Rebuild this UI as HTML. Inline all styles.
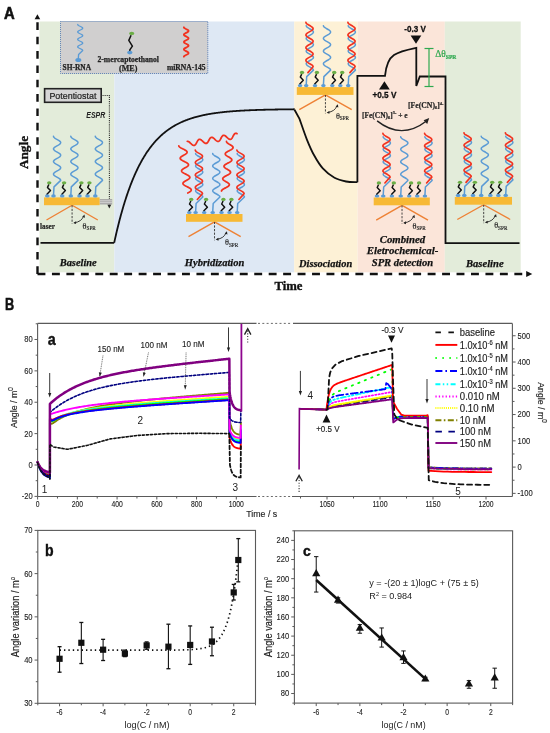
<!DOCTYPE html>
<html><head><meta charset="utf-8"><title>Figure</title>
<style>html,body{margin:0;padding:0;background:#fff;width:550px;height:733px;overflow:hidden}svg{display:block}</style>
</head><body>
<svg width="550" height="733" viewBox="0 0 550 733">
<rect width="550" height="733" fill="#fff"/>
<rect x="39.5" y="21.5" width="74.8" height="250.8" fill="#e3ecda"/>
<rect x="114.3" y="21.5" width="179.9" height="250.8" fill="#dee8f4"/>
<rect x="294.2" y="21.5" width="63.5" height="250.8" fill="#fdf1d6"/>
<rect x="357.7" y="21.5" width="87.1" height="250.8" fill="#fbe5d9"/>
<rect x="444.8" y="21.5" width="75.9" height="250.8" fill="#e3ecda"/>
<rect x="60.5" y="21.5" width="147.3" height="52" fill="#d0cfcf" stroke="#5b7db3" stroke-width="1" stroke-dasharray="1,1"/>
<polyline points="77.7,24.5 77.92,25 78.54,25.5 79.46,26 80.5,26.5 81.49,27 82.26,27.5 82.66,28 82.63,28.5 82.17,29 81.36,29.5 80.35,30 79.31,30.5 78.43,31 77.86,31.5 77.7,32 77.99,32.5 78.66,33 79.6,33.5 80.65,34 81.62,34.5 82.34,35 82.68,35.5 82.59,36 82.07,36.5 81.23,37 80.2,37.5 79.17,38 78.33,38.5 77.81,39 77.72,39.5 78.06,40 78.78,40.5 79.75,41 80.8,41.5 81.74,42 82.41,42.5 82.7,43 82.54,43.5 81.97,44 81.09,44.5 80.05,45 79.04,45.5 78.23,46 77.77,46.5 77.74,47 78.14,47.5 78.91,48 79.9,48.5 80.94,49 81.86,49.5 82.48,50 82.7,50.5 78.6,54.4 78.3,58.5" fill="none" stroke="#5b9bd5" stroke-width="1.35" stroke-linejoin="round" stroke-linecap="round" />
<ellipse cx="78.3" cy="59.9" rx="3" ry="2" fill="#5b9bd5"/>
<polyline points="129.8,51.8 129.8,49.9 132.4,46.1 128.8,40.4 131.1,35.3" fill="none" stroke="#111" stroke-width="1.5" stroke-linejoin="round"/>
<ellipse cx="131.7" cy="33.4" rx="2.6" ry="1.7" fill="#6aae45"/>
<ellipse cx="129.8" cy="52.6" rx="2.7" ry="1.8" fill="#5b9bd5"/>
<polyline points="183.85,27.3 184.07,27.81 184.68,28.31 185.57,28.82 186.58,29.33 187.52,29.83 188.21,30.34 188.54,30.85 188.43,31.36 187.91,31.86 187.07,32.37 186.07,32.88 185.1,33.38 184.33,33.89 183.9,34.4 183.9,34.9 184.33,35.41 185.1,35.92 186.07,36.42 187.07,36.93 187.91,37.44 188.43,37.94 188.54,38.45 188.21,38.96 187.52,39.47 186.58,39.97 185.57,40.48 184.68,40.99 184.07,41.49 183.85,42 184.07,42.51 184.68,43.01 185.57,43.52 186.58,44.03 187.52,44.53 188.21,45.04 188.54,45.55 188.43,46.06 187.91,46.56 187.07,47.07 186.07,47.58 185.1,48.08 184.33,48.59 183.9,49.1 183.9,49.6 184.33,50.11 185.1,50.62 186.07,51.12 187.07,51.63 187.91,52.14 188.43,52.64 188.54,53.15 188.21,53.66 187.52,54.17 186.58,54.67 185.57,55.18 184.68,55.69 184.07,56.19 183.85,56.7" fill="none" stroke="#f2321f" stroke-width="1.8" stroke-linejoin="round" stroke-linecap="round" />
<g font-family="'Liberation Serif', 'Times New Roman', serif" font-weight="bold" font-size="8" fill="#222" stroke="#222" stroke-width="0.25">
<text x="62.6" y="69.5" textLength="28.4" lengthAdjust="spacingAndGlyphs">SH-RNA</text>
<text x="97.5" y="61.5" textLength="61.5" lengthAdjust="spacingAndGlyphs">2-mercaptoethanol</text>
<text x="128.2" y="71.4" text-anchor="middle">(ME)</text>
<text x="167" y="69.5" textLength="38.5" lengthAdjust="spacingAndGlyphs">miRNA-145</text>
</g>
<rect x="44.6" y="88.7" width="56.6" height="13.6" fill="#d6d6d6" stroke="#222" stroke-width="1.6"/>
<text x="49.4" y="98.5" font-family="'Liberation Sans', Arial, sans-serif" font-size="9.6" fill="#222" stroke="#222" stroke-width="0.2" textLength="47" lengthAdjust="spacingAndGlyphs">Potentiostat</text>
<polyline points="101.5,95.5 109.4,95.5 109.4,205" fill="none" stroke="#333" stroke-width="1.1" stroke-dasharray="1,0.9"/>
<polygon points="107.3,204.5 111.3,204.5 109.3,208.5" fill="#222"/>
<text x="86.3" y="117.8" font-family="'Liberation Sans', Arial, sans-serif" font-size="8.2" font-weight="bold" font-style="italic" fill="#222" textLength="19" lengthAdjust="spacingAndGlyphs">ESPR</text>
<rect x="99.6" y="199" width="12.6" height="5.5" fill="#a9a9a9"/>
<line x1="99.6" y1="200.8" x2="112.2" y2="200.8" stroke="#e8e8e8" stroke-width="0.6"/>
<line x1="99.6" y1="202.6" x2="112.2" y2="202.6" stroke="#e8e8e8" stroke-width="0.6"/>
<path d="M40.5,242.9 L114.2,242.9" stroke="#111" stroke-width="1.8" fill="none"/>
<polyline points="114.2,242.7 114.7,240.41 115.2,238.17 115.7,235.96 116.2,233.79 116.7,231.66 117.2,229.56 117.7,227.5 118.2,225.47 118.7,223.48 119.2,221.53 119.7,219.6 120.2,217.71 120.7,215.85 121.2,214.03 121.7,212.23 122.2,210.47 122.7,208.73 123.2,207.03 123.7,205.35 124.2,203.71 124.7,202.09 125.2,200.5 125.7,198.93 126.2,197.39 126.7,195.88 127.2,194.4 127.7,192.94 128.2,191.5 128.7,190.09 129.2,188.71 129.7,187.34 130.2,186.01 130.7,184.69 131.2,183.4 131.7,182.12 132.2,180.87 132.7,179.65 133.2,178.44 133.7,177.25 134.2,176.08 134.7,174.94 135.2,173.81 135.7,172.7 136.2,171.61 136.7,170.54 137.2,169.49 137.7,168.46 138.2,167.44 138.7,166.44 139.2,165.46 139.7,164.49 140.2,163.55 140.7,162.61 141.2,161.7 141.7,160.8 142.2,159.91 142.7,159.04 143.2,158.19 143.7,157.34 144.2,156.52 144.7,155.71 145.2,154.91 145.7,154.12 146.2,153.35 146.7,152.59 147.2,151.85 147.7,151.12 148.2,150.4 148.7,149.69 149.2,148.99 149.7,148.31 150.2,147.64 150.7,146.98 151.2,146.33 151.7,145.69 152.2,145.06 152.7,144.45 153.2,143.84 153.7,143.24 154.2,142.66 154.7,142.08 155.2,141.52 155.7,140.96 156.2,140.42 156.7,139.88 157.2,139.35 157.7,138.83 158.2,138.32 158.7,137.82 159.2,137.33 159.7,136.84 160.2,136.37 160.7,135.9 161.2,135.44 161.7,134.99 162.2,134.54 162.7,134.11 163.2,133.68 163.7,133.26 164.2,132.84 164.7,132.43 165.2,132.03 165.7,131.64 166.2,131.25 166.7,130.87 167.2,130.5 167.7,130.13 168.2,129.77 168.7,129.42 169.2,129.07 169.7,128.72 170.2,128.39 170.7,128.05 171.2,127.73 171.7,127.41 172.2,127.09 172.7,126.79 173.2,126.48 173.7,126.18 174.2,125.89 174.7,125.6 175.2,125.32 175.7,125.04 176.2,124.76 176.7,124.49 177.2,124.23 177.7,123.97 178.2,123.71 178.7,123.46 179.2,123.21 179.7,122.97 180.2,122.73 180.7,122.5 181.2,122.27 181.7,122.04 182.2,121.82 182.7,121.6 183.2,121.38 183.7,121.17 184.2,120.96 184.7,120.76 185.2,120.56 185.7,120.36 186.2,120.17 186.7,119.97 187.2,119.79 187.7,119.6 188.2,119.42 188.7,119.24 189.2,119.07 189.7,118.9 190.2,118.73 190.7,118.56 191.2,118.4 191.7,118.24 192.2,118.08 192.7,117.92 193.2,117.77 193.7,117.62 194.2,117.47 194.7,117.33 195.2,117.19 195.7,117.05 196.2,116.91 196.7,116.77 197.2,116.64 197.7,116.51 198.2,116.38 198.7,116.26 199.2,116.13 199.7,116.01 200.2,115.89 200.7,115.77 201.2,115.66 201.7,115.54 202.2,115.43 202.7,115.32 203.2,115.21 203.7,115.11 204.2,115 204.7,114.9 205.2,114.8 205.7,114.7 206.2,114.6 206.7,114.51 207.2,114.41 207.7,114.32 208.2,114.23 208.7,114.14 209.2,114.05 209.7,113.97 210.2,113.88 210.7,113.8 211.2,113.72 211.7,113.63 212.2,113.56 212.7,113.48 213.2,113.4 213.7,113.33 214.2,113.25 214.7,113.18 215.2,113.11 215.7,113.04 216.2,112.97 216.7,112.9 217.2,112.83 217.7,112.77 218.2,112.7 218.7,112.64 219.2,112.58 219.7,112.52 220.2,112.46 220.7,112.4 221.2,112.34 221.7,112.28 222.2,112.23 222.7,112.17 223.2,112.12 223.7,112.06 224.2,112.01 224.7,111.96 225.2,111.91 225.7,111.86 226.2,111.81 226.7,111.76 227.2,111.72 227.7,111.67 228.2,111.62 228.7,111.58 229.2,111.53 229.7,111.49 230.2,111.45 230.7,111.41 231.2,111.37 231.7,111.33 232.2,111.29 232.7,111.25 233.2,111.21 233.7,111.17 234.2,111.13 234.7,111.1 235.2,111.06 235.7,111.03 236.2,110.99 236.7,110.96 237.2,110.92 237.7,110.89 238.2,110.86 238.7,110.83 239.2,110.8 239.7,110.76 240.2,110.73 240.7,110.7 241.2,110.68 241.7,110.65 242.2,110.62 242.7,110.59 243.2,110.56 243.7,110.54 244.2,110.51 244.7,110.49 245.2,110.46 245.7,110.43 246.2,110.41 246.7,110.39 247.2,110.36 247.7,110.34 248.2,110.32 248.7,110.29 249.2,110.27 249.7,110.25 250.2,110.23 250.7,110.21 251.2,110.19 251.7,110.17 252.2,110.15 252.7,110.13 253.2,110.11 253.7,110.09 254.2,110.07 254.7,110.05 255.2,110.03 255.7,110.02 256.2,110 256.7,109.98 257.2,109.97 257.7,109.95 258.2,109.93 258.7,109.92 259.2,109.9 259.7,109.89 260.2,109.87 260.7,109.86 261.2,109.84 261.7,109.83 262.2,109.81 262.7,109.8 263.2,109.78 263.7,109.77 264.2,109.76 264.7,109.75 265.2,109.73 265.7,109.72 266.2,109.71 266.7,109.7 267.2,109.68 267.7,109.67 268.2,109.66 268.7,109.65 269.2,109.64 269.7,109.63 270.2,109.62 270.7,109.61 271.2,109.6 271.7,109.59 272.2,109.58 272.7,109.57 273.2,109.56 273.7,109.55 274.2,109.54 274.7,109.53 275.2,109.52 275.7,109.51 276.2,109.5 276.7,109.49 277.2,109.48 277.7,109.48 278.2,109.47 278.7,109.46 279.2,109.45 279.7,109.44 280.2,109.44 280.7,109.43 281.2,109.42 281.7,109.41 282.2,109.41 282.7,109.4 283.2,109.39 283.7,109.39 284.2,109.38 284.7,109.37 285.2,109.37 285.7,109.36 286.2,109.36 286.7,109.35 287.2,109.34 287.7,109.34 288.2,109.33 288.7,109.33 289.2,109.32 289.7,109.31 290.2,109.31 290.7,109.3 291.2,109.3 291.7,109.29 292.2,109.29 292.7,109.28 293.2,109.28 293.7,109.27 294.2,109.27 294.7,109.26" stroke="#111" stroke-width="1.8" fill="none"/>
<path d="M294.5,109.7 L299.5,118.9  C300.72,122.3 304.37,133.23 306.8,139.3 C309.23,145.37 311.43,150.45 314.1,155.3 C316.77,160.15 319.4,164.65 322.8,168.4 C326.2,172.15 330.62,175.62 334.5,177.8 C338.38,179.98 342.28,180.77 346.1,181.5 C349.92,182.23 355.52,182.08 357.4,182.2" stroke="#111" stroke-width="1.8" fill="none"/>
<path d="M357.4,182.2 L357.4,75.8 L385,75.8 C386,66 388,59 394,55 C400,51 408,49.5 416.3,47.8 L416.3,86 L419.8,76.5 L445.5,76.5 L445.5,243.2 L519.5,243.2" stroke="#111" stroke-width="1.8" fill="none" stroke-linejoin="miter"/>
<g stroke="#2fa84f" stroke-width="1.2"><line x1="429" y1="48.5" x2="429" y2="86.5"/><line x1="424.5" y1="48.5" x2="433.5" y2="48.5"/><line x1="424.5" y1="86.5" x2="433.5" y2="86.5"/></g>
<text x="435.3" y="57.3" font-family="'Liberation Serif', 'Times New Roman', serif" font-size="9.4" fill="#2fa84f" stroke="#2fa84f" stroke-width="0.2">&#916;&#952;<tspan font-size="5.6" dy="1.6" font-weight="bold">SPR</tspan></text>
<polygon points="384.4,81.3 379,89.6 389.8,89.6" fill="#111"/>
<text x="384.4" y="98" font-family="'Liberation Sans', Arial, sans-serif" font-weight="bold" font-size="9.6" text-anchor="middle" fill="#111" stroke="#111" stroke-width="0.3" textLength="24" lengthAdjust="spacingAndGlyphs">+0.5 V</text>
<polygon points="410.6,35.6 421.3,35.6 416,43.8" fill="#111"/>
<text x="415" y="32" font-family="'Liberation Sans', Arial, sans-serif" font-weight="bold" font-size="9.6" text-anchor="middle" fill="#111" stroke="#111" stroke-width="0.3" textLength="21.6" lengthAdjust="spacingAndGlyphs">-0.3 V</text>
<g font-family="'Liberation Serif', 'Times New Roman', serif" font-weight="bold" font-size="8.6" fill="#222" stroke="#222" stroke-width="0.2">
<text x="361.9" y="117.5" textLength="45.8" lengthAdjust="spacingAndGlyphs">[Fe(CN)<tspan font-size="5" dy="1.5">6</tspan><tspan dy="-1.5">]</tspan><tspan font-size="5" dy="-3.2">3-</tspan><tspan dy="3.2"> + e</tspan></text>
<text x="408" y="107.7" textLength="35.6" lengthAdjust="spacingAndGlyphs">[Fe(CN)<tspan font-size="5" dy="1.5">6</tspan><tspan dy="-1.5">]</tspan><tspan font-size="5" dy="-3.2">4-</tspan></text>
</g>
<path d="M377.1,120.9 Q401.5,140.3 426.5,121" fill="none" stroke="#222" stroke-width="1.4"/>
<polygon points="429.2,118 423.6,120.2 427.2,123.9" fill="#222"/>
<polyline points="46.5,220 72.08,205.2 97.8,220" fill="none" stroke="#ee8236" stroke-width="1.4"/>
<line x1="72.08" y1="205.2" x2="72.08" y2="223.7" stroke="#333" stroke-width="0.9" stroke-dasharray="2.2,1.4"/>
<path d="M74.28,222.8 Q81.58,221.7 83.58,216.2" fill="none" stroke="#222" stroke-width="0.9"/>
<polygon points="84.48,214.6 84.98,217.8 82.28,216.8" fill="#222"/>
<polygon points="73.28,223 76.08,221.2 76.08,224.1" fill="#222"/>
<text x="82.58" y="228.8" font-family="'Liberation Serif', 'Times New Roman', serif" font-size="8.2" fill="#222" stroke="#222" stroke-width="0.15">&#952;<tspan font-size="5.2" dy="1.4">SPR</tspan></text>
<rect x="44" y="197.4" width="55.6" height="7.8" fill="#f7b935"/>
<polyline points="47.3,195.6 47,194.2 50.5,190.6 47.5,187.4 48.9,184.4" fill="none" stroke="#111" stroke-width="1.45" stroke-linejoin="round"/>
<ellipse cx="49.2" cy="182.8" rx="2.2" ry="1.65" fill="#6aae45"/>
<ellipse cx="47.3" cy="195.9" rx="2.3" ry="1.6" fill="#5b9bd5"/>
<polyline points="62.2,195.6 61.9,194.2 65.4,190.6 62.4,187.4 63.8,184.4" fill="none" stroke="#111" stroke-width="1.45" stroke-linejoin="round"/>
<ellipse cx="64.1" cy="182.8" rx="2.2" ry="1.65" fill="#6aae45"/>
<ellipse cx="62.2" cy="195.9" rx="2.3" ry="1.6" fill="#5b9bd5"/>
<polyline points="79.5,195.6 79.2,194.2 82.7,190.6 79.7,187.4 81.1,184.4" fill="none" stroke="#111" stroke-width="1.45" stroke-linejoin="round"/>
<ellipse cx="81.4" cy="182.8" rx="2.2" ry="1.65" fill="#6aae45"/>
<ellipse cx="79.5" cy="195.9" rx="2.3" ry="1.6" fill="#5b9bd5"/>
<polyline points="87.5,195.6 87.2,194.2 90.7,190.6 87.7,187.4 89.1,184.4" fill="none" stroke="#111" stroke-width="1.45" stroke-linejoin="round"/>
<ellipse cx="89.4" cy="182.8" rx="2.2" ry="1.65" fill="#6aae45"/>
<ellipse cx="87.5" cy="195.9" rx="2.3" ry="1.6" fill="#5b9bd5"/>
<polyline points="53.5,136.3 53.61,136.8 53.94,137.3 54.47,137.8 55.15,138.3 55.96,138.81 56.84,139.31 57.74,139.81 58.6,140.31 59.36,140.81 59.98,141.31 60.43,141.81 60.66,142.31 60.68,142.81 60.47,143.32 60.06,143.82 59.46,144.32 58.71,144.82 57.87,145.32 56.97,145.82 56.09,146.32 55.26,146.82 54.55,147.33 54,147.83 53.65,148.33 53.5,148.83 53.58,149.33 53.88,149.83 54.38,150.33 55.05,150.83 55.84,151.33 56.72,151.84 57.61,152.34 58.48,152.84 59.26,153.34 59.9,153.84 60.37,154.34 60.64,154.84 60.69,155.34 60.52,155.84 60.13,156.35 59.55,156.85 58.83,157.35 57.99,157.85 57.1,158.35 56.21,158.85 55.37,159.35 54.65,159.85 54.07,160.35 53.68,160.86 53.51,161.36 53.56,161.86 53.83,162.36 54.3,162.86 54.94,163.36 55.72,163.86 56.59,164.36 57.48,164.86 58.36,165.37 59.15,165.87 59.82,166.37 60.32,166.87 60.62,167.37 60.7,167.87 60.55,168.37 60.2,168.87 59.65,169.38 58.94,169.88 58.11,170.38 57.23,170.88 56.33,171.38 55.49,171.88 54.74,172.38 54.14,172.88 53.73,173.38 53.52,173.89 53.54,174.39 53.77,174.89 54.22,175.39 54.84,175.89 55.6,176.39 56.46,176.89 57.36,177.39 58.24,177.89 59.05,178.4 59.73,178.9 60.26,179.4 60.59,179.9 60.7,180.4 54,186.9 53.5,195.4" fill="none" stroke="#5b9bd5" stroke-width="1.5" stroke-linejoin="round" stroke-linecap="round" />
<ellipse cx="53.5" cy="195.9" rx="2.3" ry="1.6" fill="#5b9bd5"/>
<polyline points="70.8,136.3 70.91,136.8 71.24,137.3 71.77,137.8 72.45,138.3 73.26,138.81 74.14,139.31 75.04,139.81 75.9,140.31 76.66,140.81 77.28,141.31 77.73,141.81 77.96,142.31 77.98,142.81 77.77,143.32 77.36,143.82 76.76,144.32 76.01,144.82 75.17,145.32 74.27,145.82 73.39,146.32 72.56,146.82 71.85,147.33 71.3,147.83 70.95,148.33 70.8,148.83 70.88,149.33 71.18,149.83 71.68,150.33 72.35,150.83 73.14,151.33 74.02,151.84 74.91,152.34 75.78,152.84 76.56,153.34 77.2,153.84 77.67,154.34 77.94,154.84 77.99,155.34 77.82,155.84 77.43,156.35 76.85,156.85 76.13,157.35 75.29,157.85 74.4,158.35 73.51,158.85 72.67,159.35 71.95,159.85 71.37,160.35 70.98,160.86 70.81,161.36 70.86,161.86 71.13,162.36 71.6,162.86 72.24,163.36 73.02,163.86 73.89,164.36 74.78,164.86 75.66,165.37 76.45,165.87 77.12,166.37 77.62,166.87 77.92,167.37 78,167.87 77.85,168.37 77.5,168.87 76.95,169.38 76.24,169.88 75.41,170.38 74.53,170.88 73.63,171.38 72.79,171.88 72.04,172.38 71.44,172.88 71.03,173.38 70.82,173.89 70.84,174.39 71.07,174.89 71.52,175.39 72.14,175.89 72.9,176.39 73.76,176.89 74.66,177.39 75.54,177.89 76.35,178.4 77.03,178.9 77.56,179.4 77.89,179.9 78,180.4 71.3,186.9 70.8,195.4" fill="none" stroke="#5b9bd5" stroke-width="1.5" stroke-linejoin="round" stroke-linecap="round" />
<ellipse cx="70.8" cy="195.9" rx="2.3" ry="1.6" fill="#5b9bd5"/>
<polyline points="95.3,136.3 95.41,136.8 95.74,137.3 96.27,137.8 96.95,138.3 97.76,138.81 98.64,139.31 99.54,139.81 100.4,140.31 101.16,140.81 101.78,141.31 102.23,141.81 102.46,142.31 102.48,142.81 102.27,143.32 101.86,143.82 101.26,144.32 100.51,144.82 99.67,145.32 98.77,145.82 97.89,146.32 97.06,146.82 96.35,147.33 95.8,147.83 95.45,148.33 95.3,148.83 95.38,149.33 95.68,149.83 96.18,150.33 96.85,150.83 97.64,151.33 98.52,151.84 99.41,152.34 100.28,152.84 101.06,153.34 101.7,153.84 102.17,154.34 102.44,154.84 102.49,155.34 102.32,155.84 101.93,156.35 101.35,156.85 100.63,157.35 99.79,157.85 98.9,158.35 98.01,158.85 97.17,159.35 96.45,159.85 95.87,160.35 95.48,160.86 95.31,161.36 95.36,161.86 95.63,162.36 96.1,162.86 96.74,163.36 97.52,163.86 98.39,164.36 99.28,164.86 100.16,165.37 100.95,165.87 101.62,166.37 102.12,166.87 102.42,167.37 102.5,167.87 102.35,168.37 102,168.87 101.45,169.38 100.74,169.88 99.91,170.38 99.03,170.88 98.13,171.38 97.29,171.88 96.54,172.38 95.94,172.88 95.53,173.38 95.32,173.89 95.34,174.39 95.57,174.89 96.02,175.39 96.64,175.89 97.4,176.39 98.26,176.89 99.16,177.39 100.04,177.89 100.85,178.4 101.53,178.9 102.06,179.4 102.39,179.9 102.5,180.4 95.8,186.9 95.3,195.4" fill="none" stroke="#5b9bd5" stroke-width="1.5" stroke-linejoin="round" stroke-linecap="round" />
<ellipse cx="95.3" cy="195.9" rx="2.3" ry="1.6" fill="#5b9bd5"/>
<polyline points="188.5,236.6 214.53,221.8 240.7,236.6" fill="none" stroke="#ee8236" stroke-width="1.4"/>
<line x1="214.53" y1="221.8" x2="214.53" y2="240.3" stroke="#333" stroke-width="0.9" stroke-dasharray="2.2,1.4"/>
<path d="M216.73,239.4 Q224.03,238.3 226.03,232.8" fill="none" stroke="#222" stroke-width="0.9"/>
<polygon points="226.93,231.2 227.43,234.4 224.73,233.4" fill="#222"/>
<polygon points="215.73,239.6 218.53,237.8 218.53,240.7" fill="#222"/>
<text x="225.03" y="245.4" font-family="'Liberation Serif', 'Times New Roman', serif" font-size="8.2" fill="#222" stroke="#222" stroke-width="0.15">&#952;<tspan font-size="5.2" dy="1.4">SPR</tspan></text>
<rect x="186" y="214" width="56.5" height="7.8" fill="#f7b935"/>
<polyline points="189.3,212.2 189,210.8 192.5,207.2 189.5,204 190.9,201" fill="none" stroke="#111" stroke-width="1.45" stroke-linejoin="round"/>
<ellipse cx="191.2" cy="199.4" rx="2.2" ry="1.65" fill="#6aae45"/>
<ellipse cx="189.3" cy="212.5" rx="2.3" ry="1.6" fill="#5b9bd5"/>
<polyline points="204.2,212.2 203.9,210.8 207.4,207.2 204.4,204 205.8,201" fill="none" stroke="#111" stroke-width="1.45" stroke-linejoin="round"/>
<ellipse cx="206.1" cy="199.4" rx="2.2" ry="1.65" fill="#6aae45"/>
<ellipse cx="204.2" cy="212.5" rx="2.3" ry="1.6" fill="#5b9bd5"/>
<polyline points="221.5,212.2 221.2,210.8 224.7,207.2 221.7,204 223.1,201" fill="none" stroke="#111" stroke-width="1.45" stroke-linejoin="round"/>
<ellipse cx="223.4" cy="199.4" rx="2.2" ry="1.65" fill="#6aae45"/>
<ellipse cx="221.5" cy="212.5" rx="2.3" ry="1.6" fill="#5b9bd5"/>
<polyline points="229.5,212.2 229.2,210.8 232.7,207.2 229.7,204 231.1,201" fill="none" stroke="#111" stroke-width="1.45" stroke-linejoin="round"/>
<ellipse cx="231.4" cy="199.4" rx="2.2" ry="1.65" fill="#6aae45"/>
<ellipse cx="229.5" cy="212.5" rx="2.3" ry="1.6" fill="#5b9bd5"/>
<polyline points="195.6,153.5 195.71,154 196.05,154.5 196.59,155 197.29,155.5 198.11,156 199.01,156.5 199.91,157 200.77,157.5 201.53,158 202.14,158.5 202.57,159 202.78,159.5 202.76,160 202.52,160.5 202.07,161 201.43,161.5 200.65,162 199.78,162.5 198.88,163 197.99,163.5 197.18,164 196.5,164.5 195.99,165 195.68,165.5 195.6,166 195.75,166.5 196.12,167 196.68,167.5 197.4,168 198.24,168.5 199.14,169 200.04,169.5 200.89,170 201.63,170.5 202.22,171 202.61,171.5 202.79,172 202.74,172.5 202.47,173 201.99,173.5 201.33,174 200.53,174.5 199.65,175 198.75,175.5 197.87,176 197.07,176.5 196.41,177 195.93,177.5 195.66,178 195.61,178.5 195.79,179 196.18,179.5 196.77,180 197.51,180.5 198.36,181 199.26,181.5 200.16,182 201,182.5 201.72,183 202.28,183.5 202.65,184 202.8,184.5 202.72,185 202.41,185.5 201.9,186 201.22,186.5 200.41,187 199.52,187.5 198.62,188 197.75,188.5 196.97,189 196.33,189.5 195.88,190 195.64,190.5 195.62,191 195.83,191.5 196.26,192 196.87,192.5 197.63,193 198.49,193.5 199.39,194 200.29,194.5 201.11,195 201.81,195.5 202.35,196 202.69,196.5 202.8,197 196.1,203.5 195.6,212" fill="none" stroke="#5b9bd5" stroke-width="1.5" stroke-linejoin="round" stroke-linecap="round" />
<ellipse cx="195.6" cy="212.5" rx="2.3" ry="1.6" fill="#5b9bd5"/>
<polyline points="195.3,150.1 195.41,150.6 195.75,151.1 196.29,151.6 196.99,152.1 197.81,152.6 198.71,153.1 199.61,153.6 200.47,154.1 201.23,154.6 201.84,155.1 202.27,155.6 202.48,156.1 202.46,156.6 202.22,157.1 201.77,157.6 201.13,158.1 200.35,158.6 199.48,159.1 198.58,159.6 197.69,160.1 196.88,160.6 196.2,161.1 195.69,161.6 195.38,162.1 195.3,162.6 195.45,163.1 195.82,163.6 196.38,164.1 197.1,164.6 197.94,165.1 198.84,165.6 199.74,166.1 200.59,166.6 201.33,167.1 201.92,167.6 202.31,168.1 202.49,168.6 202.44,169.1 202.17,169.6 201.69,170.1 201.03,170.6 200.23,171.1 199.35,171.6 198.45,172.1 197.57,172.6 196.77,173.1 196.11,173.6 195.63,174.1 195.36,174.6 195.31,175.1 195.49,175.6 195.88,176.1 196.47,176.6 197.21,177.1 198.06,177.6 198.96,178.1 199.86,178.6 200.7,179.1 201.42,179.6 201.98,180.1 202.35,180.6 202.5,181.1 202.42,181.6 202.11,182.1 201.6,182.6 200.92,183.1 200.11,183.6 199.22,184.1 198.32,184.6 197.45,185.1 196.67,185.6 196.03,186.1 195.58,186.6 195.34,187.1 195.32,187.6 195.53,188.1 195.96,188.6 196.57,189.1 197.33,189.6 198.19,190.1 199.09,190.6 199.99,191.1 200.81,191.6 201.51,192.1 202.05,192.6 202.39,193.1 202.5,193.6 197.3,199.48" fill="none" stroke="#f2321f" stroke-width="1.65" stroke-linejoin="round" stroke-linecap="round" />
<polyline points="212.7,153.5 212.81,154 213.15,154.5 213.69,155 214.39,155.5 215.21,156 216.11,156.5 217.01,157 217.87,157.5 218.63,158 219.24,158.5 219.67,159 219.88,159.5 219.86,160 219.62,160.5 219.17,161 218.53,161.5 217.75,162 216.88,162.5 215.98,163 215.09,163.5 214.28,164 213.6,164.5 213.09,165 212.78,165.5 212.7,166 212.85,166.5 213.22,167 213.78,167.5 214.5,168 215.34,168.5 216.24,169 217.14,169.5 217.99,170 218.73,170.5 219.32,171 219.71,171.5 219.89,172 219.84,172.5 219.57,173 219.09,173.5 218.43,174 217.63,174.5 216.75,175 215.85,175.5 214.97,176 214.17,176.5 213.51,177 213.03,177.5 212.76,178 212.71,178.5 212.89,179 213.28,179.5 213.87,180 214.61,180.5 215.46,181 216.36,181.5 217.26,182 218.1,182.5 218.82,183 219.38,183.5 219.75,184 219.9,184.5 219.82,185 219.51,185.5 219,186 218.32,186.5 217.51,187 216.62,187.5 215.72,188 214.85,188.5 214.07,189 213.43,189.5 212.98,190 212.74,190.5 212.72,191 212.93,191.5 213.36,192 213.97,192.5 214.73,193 215.59,193.5 216.49,194 217.39,194.5 218.21,195 218.91,195.5 219.45,196 219.79,196.5 219.9,197 213.2,203.5 212.7,212" fill="none" stroke="#5b9bd5" stroke-width="1.5" stroke-linejoin="round" stroke-linecap="round" />
<ellipse cx="212.7" cy="212.5" rx="2.3" ry="1.6" fill="#5b9bd5"/>
<polyline points="237.2,153.5 237.31,154 237.65,154.5 238.19,155 238.89,155.5 239.71,156 240.61,156.5 241.51,157 242.37,157.5 243.13,158 243.74,158.5 244.17,159 244.38,159.5 244.36,160 244.12,160.5 243.67,161 243.03,161.5 242.25,162 241.38,162.5 240.48,163 239.59,163.5 238.78,164 238.1,164.5 237.59,165 237.28,165.5 237.2,166 237.35,166.5 237.72,167 238.28,167.5 239,168 239.84,168.5 240.74,169 241.64,169.5 242.49,170 243.23,170.5 243.82,171 244.21,171.5 244.39,172 244.34,172.5 244.07,173 243.59,173.5 242.93,174 242.13,174.5 241.25,175 240.35,175.5 239.47,176 238.67,176.5 238.01,177 237.53,177.5 237.26,178 237.21,178.5 237.39,179 237.78,179.5 238.37,180 239.11,180.5 239.96,181 240.86,181.5 241.76,182 242.6,182.5 243.32,183 243.88,183.5 244.25,184 244.4,184.5 244.32,185 244.01,185.5 243.5,186 242.82,186.5 242.01,187 241.12,187.5 240.22,188 239.35,188.5 238.57,189 237.93,189.5 237.48,190 237.24,190.5 237.22,191 237.43,191.5 237.86,192 238.47,192.5 239.23,193 240.09,193.5 240.99,194 241.89,194.5 242.71,195 243.41,195.5 243.95,196 244.29,196.5 244.4,197 237.7,203.5 237.2,212" fill="none" stroke="#5b9bd5" stroke-width="1.5" stroke-linejoin="round" stroke-linecap="round" />
<ellipse cx="237.2" cy="212.5" rx="2.3" ry="1.6" fill="#5b9bd5"/>
<polyline points="236.9,150.1 237.01,150.6 237.35,151.1 237.89,151.6 238.59,152.1 239.41,152.6 240.31,153.1 241.21,153.6 242.07,154.1 242.83,154.6 243.44,155.1 243.87,155.6 244.08,156.1 244.06,156.6 243.82,157.1 243.37,157.6 242.73,158.1 241.95,158.6 241.08,159.1 240.18,159.6 239.29,160.1 238.48,160.6 237.8,161.1 237.29,161.6 236.98,162.1 236.9,162.6 237.05,163.1 237.42,163.6 237.98,164.1 238.7,164.6 239.54,165.1 240.44,165.6 241.34,166.1 242.19,166.6 242.93,167.1 243.52,167.6 243.91,168.1 244.09,168.6 244.04,169.1 243.77,169.6 243.29,170.1 242.63,170.6 241.83,171.1 240.95,171.6 240.05,172.1 239.17,172.6 238.37,173.1 237.71,173.6 237.23,174.1 236.96,174.6 236.91,175.1 237.09,175.6 237.48,176.1 238.07,176.6 238.81,177.1 239.66,177.6 240.56,178.1 241.46,178.6 242.3,179.1 243.02,179.6 243.58,180.1 243.95,180.6 244.1,181.1 244.02,181.6 243.71,182.1 243.2,182.6 242.52,183.1 241.71,183.6 240.82,184.1 239.92,184.6 239.05,185.1 238.27,185.6 237.63,186.1 237.18,186.6 236.94,187.1 236.92,187.6 237.13,188.1 237.56,188.6 238.17,189.1 238.93,189.6 239.79,190.1 240.69,190.6 241.59,191.1 242.41,191.6 243.11,192.1 243.65,192.6 243.99,193.1 244.1,193.6 238.9,199.48" fill="none" stroke="#f2321f" stroke-width="1.65" stroke-linejoin="round" stroke-linecap="round" />
<polyline points="178.8,145.8 178.92,146.19 179.18,146.59 179.57,146.98 180.09,147.37 180.71,147.77 181.41,148.16 182.16,148.55 182.95,148.95 183.73,149.34 184.49,149.73 185.19,150.13 185.81,150.52 186.32,150.91 186.72,151.31 186.98,151.7 187.09,152.09 187.06,152.49 186.89,152.88 186.58,153.27 186.15,153.67 185.62,154.06 185.01,154.45 184.34,154.85 183.64,155.24 182.94,155.63 182.27,156.03 181.66,156.42 181.13,156.81 180.7,157.21 180.39,157.6 180.22,157.99 180.19,158.39 180.3,158.78 180.56,159.17 180.96,159.57 181.47,159.96 182.09,160.35 182.79,160.75 183.55,161.14 184.33,161.53 185.12,161.93 185.87,162.32 186.57,162.71 187.19,163.11 187.71,163.5 188.1,163.89 188.36,164.29 188.48,164.68 188.45,165.07 188.28,165.47 187.97,165.86 187.54,166.25 187.01,166.65 186.39,167.04 185.72,167.43 185.03,167.83 184.33,168.22 183.66,168.61 183.05,169.01 182.51,169.4 182.08,169.79 181.78,170.19 181.6,170.58 181.57,170.97 181.69,171.37 181.95,171.76 182.34,172.15 182.86,172.55 183.48,172.94 184.18,173.33 184.94,173.73 185.72,174.12 186.5,174.51 187.26,174.91 187.96,175.3 188.58,175.69 189.1,176.09 189.49,176.48 189.75,176.87 189.87,177.27 189.84,177.66 189.66,178.05 189.36,178.45 188.93,178.84 188.39,179.23 187.78,179.63 187.11,180.02 186.41,180.41 185.72,180.81 185.05,181.2 184.43,181.59 183.9,181.99 183.47,182.38 183.16,182.77 182.99,183.17 182.96,183.56 183.08,183.95 183.34,184.35 183.73,184.74 184.25,185.13 184.87,185.53 185.57,185.92 186.32,186.31 187.11,186.71 187.89,187.1 188.65,187.49 189.35,187.89 189.97,188.28 190.48,188.67 190.88,189.07 191.14,189.46 191.25,189.85 191.22,190.25 191.05,190.64 190.74,191.03 190.31,191.43 189.78,191.82 189.17,192.21 188.5,192.61 187.8,193" fill="none" stroke="#f2321f" stroke-width="1.75" stroke-linejoin="round" stroke-linecap="round" />
<polyline points="226.5,141.4 226.54,141.81 226.73,142.23 227.06,142.64 227.52,143.05 228.09,143.47 228.74,143.88 229.43,144.29 230.14,144.71 230.84,145.12 231.48,145.53 232.05,145.95 232.51,146.36 232.85,146.77 233.04,147.19 233.07,147.6 232.95,148.01 232.68,148.43 232.26,148.84 231.72,149.25 231.07,149.67 230.34,150.08 229.56,150.49 228.77,150.91 227.99,151.32 227.26,151.73 226.61,152.15 226.06,152.56 225.64,152.97 225.37,153.39 225.25,153.8 225.29,154.21 225.48,154.63 225.81,155.04 226.27,155.45 226.84,155.87 227.49,156.28 228.18,156.69 228.89,157.11 229.59,157.52 230.23,157.93 230.8,158.35 231.26,158.76 231.6,159.17 231.79,159.59 231.82,160 231.7,160.41 231.43,160.83 231.01,161.24 230.47,161.65 229.82,162.07 229.09,162.48 228.31,162.89 227.52,163.31 226.74,163.72 226.01,164.13 225.36,164.55 224.81,164.96 224.39,165.37 224.12,165.79 224,166.2 224.04,166.61 224.23,167.03 224.56,167.44 225.02,167.85 225.59,168.27 226.24,168.68 226.93,169.09 227.64,169.51 228.34,169.92 228.98,170.33 229.55,170.75 230.01,171.16 230.35,171.57 230.54,171.99 230.57,172.4 230.45,172.81 230.18,173.23 229.76,173.64 229.22,174.05 228.57,174.47 227.84,174.88 227.06,175.29 226.27,175.71 225.49,176.12 224.76,176.53 224.11,176.95 223.56,177.36 223.14,177.77 222.87,178.19 222.75,178.6 222.79,179.01 222.98,179.43 223.31,179.84 223.77,180.25 224.34,180.67 224.99,181.08 225.68,181.49 226.39,181.91 227.09,182.32 227.73,182.73 228.3,183.15 228.76,183.56 229.1,183.97 229.29,184.39 229.32,184.8 229.2,185.21 228.93,185.63 228.51,186.04 227.97,186.45 227.32,186.87 226.59,187.28 225.81,187.69 225.02,188.11 224.24,188.52 223.51,188.93 222.86,189.35 222.31,189.76 221.89,190.17 221.62,190.59 221.5,191" fill="none" stroke="#f2321f" stroke-width="1.75" stroke-linejoin="round" stroke-linecap="round" />
<polyline points="187.27,141.34 187.78,141.34 188.32,141.5 188.89,141.82 189.47,142.26 190.07,142.78 190.67,143.35 191.28,143.92 191.88,144.46 192.47,144.91 193.03,145.25 193.58,145.44 194.09,145.47 194.58,145.32 195.04,145.02 195.47,144.56 195.89,143.97 196.28,143.29 196.67,142.56 197.06,141.82 197.45,141.11 197.86,140.48 198.28,139.95 198.73,139.57 199.2,139.35 199.7,139.3 200.23,139.42 200.79,139.69 201.37,140.09 201.96,140.59 202.57,141.15 203.17,141.73 203.78,142.28 204.37,142.76 204.94,143.14 205.49,143.38 206.02,143.46 206.51,143.37 206.98,143.11 207.42,142.7 207.84,142.15 208.24,141.49 208.63,140.77 209.02,140.03 209.41,139.31 209.81,138.64 210.23,138.08 210.67,137.66 211.13,137.38 211.63,137.28 212.15,137.35 212.7,137.57 213.27,137.94 213.86,138.41 214.46,138.96 215.07,139.53 215.67,140.1 216.27,140.61 216.85,141.02 217.41,141.3 217.94,141.43 218.44,141.4 218.92,141.19 219.37,140.82 219.8,140.31 220.2,139.69 220.6,138.98 220.98,138.24 221.37,137.51 221.77,136.82 222.18,136.23 222.61,135.76 223.07,135.43 223.55,135.28 224.07,135.29 224.61,135.47 225.17,135.79 225.76,136.24 226.36,136.76 226.96,137.34 227.57,137.91 228.17,138.44 228.75,138.88 229.32,139.21 229.86,139.39 230.37,139.41 230.86,139.26 231.32,138.94 231.75,138.47 232.16,137.88 232.56,137.19 232.95,136.46 233.33,135.72 233.73,135.01 234.13,134.38 234.56,133.87 235.01,133.5 235.48,133.29 235.99,133.25 236.52,133.38 237.08,133.66" fill="none" stroke="#f2321f" stroke-width="1.75" stroke-linejoin="round" stroke-linecap="round" />
<polyline points="299.3,109.7 325.43,94.9 351.7,109.7" fill="none" stroke="#ee8236" stroke-width="1.4"/>
<line x1="325.43" y1="94.9" x2="325.43" y2="113.4" stroke="#333" stroke-width="0.9" stroke-dasharray="2.2,1.4"/>
<path d="M327.63,112.5 Q334.93,111.4 336.93,105.9" fill="none" stroke="#222" stroke-width="0.9"/>
<polygon points="337.83,104.3 338.33,107.5 335.63,106.5" fill="#222"/>
<polygon points="326.63,112.7 329.43,110.9 329.43,113.8" fill="#222"/>
<text x="335.93" y="118.5" font-family="'Liberation Serif', 'Times New Roman', serif" font-size="8.2" fill="#222" stroke="#222" stroke-width="0.15">&#952;<tspan font-size="5.2" dy="1.4">SPR</tspan></text>
<rect x="296.8" y="87.1" width="56.7" height="7.8" fill="#f7b935"/>
<polyline points="300.1,85.3 299.8,83.9 303.3,80.3 300.3,77.1 301.7,74.1" fill="none" stroke="#111" stroke-width="1.45" stroke-linejoin="round"/>
<ellipse cx="302" cy="72.5" rx="2.2" ry="1.65" fill="#6aae45"/>
<ellipse cx="300.1" cy="85.6" rx="2.3" ry="1.6" fill="#5b9bd5"/>
<polyline points="315,85.3 314.7,83.9 318.2,80.3 315.2,77.1 316.6,74.1" fill="none" stroke="#111" stroke-width="1.45" stroke-linejoin="round"/>
<ellipse cx="316.9" cy="72.5" rx="2.2" ry="1.65" fill="#6aae45"/>
<ellipse cx="315" cy="85.6" rx="2.3" ry="1.6" fill="#5b9bd5"/>
<polyline points="332.3,85.3 332,83.9 335.5,80.3 332.5,77.1 333.9,74.1" fill="none" stroke="#111" stroke-width="1.45" stroke-linejoin="round"/>
<ellipse cx="334.2" cy="72.5" rx="2.2" ry="1.65" fill="#6aae45"/>
<ellipse cx="332.3" cy="85.6" rx="2.3" ry="1.6" fill="#5b9bd5"/>
<polyline points="340.3,85.3 340,83.9 343.5,80.3 340.5,77.1 341.9,74.1" fill="none" stroke="#111" stroke-width="1.45" stroke-linejoin="round"/>
<ellipse cx="342.2" cy="72.5" rx="2.2" ry="1.65" fill="#6aae45"/>
<ellipse cx="340.3" cy="85.6" rx="2.3" ry="1.6" fill="#5b9bd5"/>
<polyline points="306.2,25.7 306.31,26.2 306.64,26.71 307.17,27.21 307.85,27.72 308.66,28.22 309.54,28.73 310.44,29.23 311.3,29.74 312.06,30.24 312.68,30.75 313.13,31.25 313.36,31.75 313.38,32.26 313.17,32.76 312.76,33.27 312.16,33.77 311.41,34.28 310.57,34.78 309.67,35.29 308.79,35.79 307.96,36.3 307.25,36.8 306.7,37.3 306.35,37.81 306.2,38.31 306.28,38.82 306.58,39.32 307.08,39.83 307.75,40.33 308.54,40.84 309.42,41.34 310.31,41.85 311.18,42.35 311.96,42.85 312.6,43.36 313.07,43.86 313.34,44.37 313.39,44.87 313.22,45.38 312.83,45.88 312.25,46.39 311.53,46.89 310.69,47.4 309.8,47.9 308.91,48.4 308.07,48.91 307.35,49.41 306.77,49.92 306.38,50.42 306.21,50.93 306.26,51.43 306.53,51.94 307,52.44 307.64,52.95 308.42,53.45 309.29,53.95 310.18,54.46 311.06,54.96 311.85,55.47 312.52,55.97 313.02,56.48 313.32,56.98 313.4,57.49 313.25,57.99 312.9,58.5 312.35,59 311.64,59.5 310.81,60.01 309.93,60.51 309.03,61.02 308.19,61.52 307.44,62.03 306.84,62.53 306.43,63.04 306.22,63.54 306.24,64.05 306.47,64.55 306.92,65.05 307.54,65.56 308.3,66.06 309.16,66.57 310.06,67.07 310.94,67.58 311.75,68.08 312.43,68.59 312.96,69.09 313.29,69.6 313.4,70.1 306.7,76.6 306.2,85.1" fill="none" stroke="#5b9bd5" stroke-width="1.5" stroke-linejoin="round" stroke-linecap="round" />
<ellipse cx="306.2" cy="85.6" rx="2.3" ry="1.6" fill="#5b9bd5"/>
<polyline points="305.9,22.3 306.01,22.8 306.34,23.31 306.87,23.81 307.55,24.32 308.36,24.82 309.24,25.33 310.14,25.83 311,26.34 311.76,26.84 312.38,27.35 312.83,27.85 313.06,28.35 313.08,28.86 312.87,29.36 312.46,29.87 311.86,30.37 311.11,30.88 310.27,31.38 309.37,31.89 308.49,32.39 307.66,32.9 306.95,33.4 306.4,33.9 306.05,34.41 305.9,34.91 305.98,35.42 306.28,35.92 306.78,36.43 307.45,36.93 308.24,37.44 309.12,37.94 310.01,38.45 310.88,38.95 311.66,39.45 312.3,39.96 312.77,40.46 313.04,40.97 313.09,41.47 312.92,41.98 312.53,42.48 311.95,42.99 311.23,43.49 310.39,44 309.5,44.5 308.61,45 307.77,45.51 307.05,46.01 306.47,46.52 306.08,47.02 305.91,47.53 305.96,48.03 306.23,48.54 306.7,49.04 307.34,49.55 308.12,50.05 308.99,50.55 309.88,51.06 310.76,51.56 311.55,52.07 312.22,52.57 312.72,53.08 313.02,53.58 313.1,54.09 312.95,54.59 312.6,55.1 312.05,55.6 311.34,56.1 310.51,56.61 309.63,57.11 308.73,57.62 307.89,58.12 307.14,58.63 306.54,59.13 306.13,59.64 305.92,60.14 305.94,60.65 306.17,61.15 306.62,61.65 307.24,62.16 308,62.66 308.86,63.17 309.76,63.67 310.64,64.18 311.45,64.68 312.13,65.19 312.66,65.69 312.99,66.2 313.1,66.7 307.9,72.58" fill="none" stroke="#f2321f" stroke-width="1.65" stroke-linejoin="round" stroke-linecap="round" />
<polyline points="323.4,25.7 323.51,26.2 323.84,26.71 324.37,27.21 325.05,27.72 325.86,28.22 326.74,28.73 327.64,29.23 328.5,29.74 329.26,30.24 329.88,30.75 330.33,31.25 330.56,31.75 330.58,32.26 330.37,32.76 329.96,33.27 329.36,33.77 328.61,34.28 327.77,34.78 326.87,35.29 325.99,35.79 325.16,36.3 324.45,36.8 323.9,37.3 323.55,37.81 323.4,38.31 323.48,38.82 323.78,39.32 324.28,39.83 324.95,40.33 325.74,40.84 326.62,41.34 327.51,41.85 328.38,42.35 329.16,42.85 329.8,43.36 330.27,43.86 330.54,44.37 330.59,44.87 330.42,45.38 330.03,45.88 329.45,46.39 328.73,46.89 327.89,47.4 327,47.9 326.11,48.4 325.27,48.91 324.55,49.41 323.97,49.92 323.58,50.42 323.41,50.93 323.46,51.43 323.73,51.94 324.2,52.44 324.84,52.95 325.62,53.45 326.49,53.95 327.38,54.46 328.26,54.96 329.05,55.47 329.72,55.97 330.22,56.48 330.52,56.98 330.6,57.49 330.45,57.99 330.1,58.5 329.55,59 328.84,59.5 328.01,60.01 327.13,60.51 326.23,61.02 325.39,61.52 324.64,62.03 324.04,62.53 323.63,63.04 323.42,63.54 323.44,64.05 323.67,64.55 324.12,65.05 324.74,65.56 325.5,66.06 326.36,66.57 327.26,67.07 328.14,67.58 328.95,68.08 329.63,68.59 330.16,69.09 330.49,69.6 330.6,70.1 323.9,76.6 323.4,85.1" fill="none" stroke="#5b9bd5" stroke-width="1.5" stroke-linejoin="round" stroke-linecap="round" />
<ellipse cx="323.4" cy="85.6" rx="2.3" ry="1.6" fill="#5b9bd5"/>
<polyline points="348.2,25.7 348.31,26.2 348.64,26.71 349.17,27.21 349.85,27.72 350.66,28.22 351.54,28.73 352.44,29.23 353.3,29.74 354.06,30.24 354.68,30.75 355.13,31.25 355.36,31.75 355.38,32.26 355.17,32.76 354.76,33.27 354.16,33.77 353.41,34.28 352.57,34.78 351.67,35.29 350.79,35.79 349.96,36.3 349.25,36.8 348.7,37.3 348.35,37.81 348.2,38.31 348.28,38.82 348.58,39.32 349.08,39.83 349.75,40.33 350.54,40.84 351.42,41.34 352.31,41.85 353.18,42.35 353.96,42.85 354.6,43.36 355.07,43.86 355.34,44.37 355.39,44.87 355.22,45.38 354.83,45.88 354.25,46.39 353.53,46.89 352.69,47.4 351.8,47.9 350.91,48.4 350.07,48.91 349.35,49.41 348.77,49.92 348.38,50.42 348.21,50.93 348.26,51.43 348.53,51.94 349,52.44 349.64,52.95 350.42,53.45 351.29,53.95 352.18,54.46 353.06,54.96 353.85,55.47 354.52,55.97 355.02,56.48 355.32,56.98 355.4,57.49 355.25,57.99 354.9,58.5 354.35,59 353.64,59.5 352.81,60.01 351.93,60.51 351.03,61.02 350.19,61.52 349.44,62.03 348.84,62.53 348.43,63.04 348.22,63.54 348.24,64.05 348.47,64.55 348.92,65.05 349.54,65.56 350.3,66.06 351.16,66.57 352.06,67.07 352.94,67.58 353.75,68.08 354.43,68.59 354.96,69.09 355.29,69.6 355.4,70.1 348.7,76.6 348.2,85.1" fill="none" stroke="#5b9bd5" stroke-width="1.5" stroke-linejoin="round" stroke-linecap="round" />
<ellipse cx="348.2" cy="85.6" rx="2.3" ry="1.6" fill="#5b9bd5"/>
<polyline points="347.9,22.3 348.01,22.8 348.34,23.31 348.87,23.81 349.55,24.32 350.36,24.82 351.24,25.33 352.14,25.83 353,26.34 353.76,26.84 354.38,27.35 354.83,27.85 355.06,28.35 355.08,28.86 354.87,29.36 354.46,29.87 353.86,30.37 353.11,30.88 352.27,31.38 351.37,31.89 350.49,32.39 349.66,32.9 348.95,33.4 348.4,33.9 348.05,34.41 347.9,34.91 347.98,35.42 348.28,35.92 348.78,36.43 349.45,36.93 350.24,37.44 351.12,37.94 352.01,38.45 352.88,38.95 353.66,39.45 354.3,39.96 354.77,40.46 355.04,40.97 355.09,41.47 354.92,41.98 354.53,42.48 353.95,42.99 353.23,43.49 352.39,44 351.5,44.5 350.61,45 349.77,45.51 349.05,46.01 348.47,46.52 348.08,47.02 347.91,47.53 347.96,48.03 348.23,48.54 348.7,49.04 349.34,49.55 350.12,50.05 350.99,50.55 351.88,51.06 352.76,51.56 353.55,52.07 354.22,52.57 354.72,53.08 355.02,53.58 355.1,54.09 354.95,54.59 354.6,55.1 354.05,55.6 353.34,56.1 352.51,56.61 351.63,57.11 350.73,57.62 349.89,58.12 349.14,58.63 348.54,59.13 348.13,59.64 347.92,60.14 347.94,60.65 348.17,61.15 348.62,61.65 349.24,62.16 350,62.66 350.86,63.17 351.76,63.67 352.64,64.18 353.45,64.68 354.13,65.19 354.66,65.69 354.99,66.2 355.1,66.7 349.9,72.58" fill="none" stroke="#f2321f" stroke-width="1.65" stroke-linejoin="round" stroke-linecap="round" />
<polyline points="376.2,220.1 402.03,205.3 428,220.1" fill="none" stroke="#ee8236" stroke-width="1.4"/>
<line x1="402.03" y1="205.3" x2="402.03" y2="223.8" stroke="#333" stroke-width="0.9" stroke-dasharray="2.2,1.4"/>
<path d="M404.23,222.9 Q411.53,221.8 413.53,216.3" fill="none" stroke="#222" stroke-width="0.9"/>
<polygon points="414.43,214.7 414.93,217.9 412.23,216.9" fill="#222"/>
<polygon points="403.23,223.1 406.03,221.3 406.03,224.2" fill="#222"/>
<text x="412.53" y="228.9" font-family="'Liberation Serif', 'Times New Roman', serif" font-size="8.2" fill="#222" stroke="#222" stroke-width="0.15">&#952;<tspan font-size="5.2" dy="1.4">SPR</tspan></text>
<rect x="373.7" y="197.5" width="56.1" height="7.8" fill="#f7b935"/>
<polyline points="377,195.7 376.7,194.3 380.2,190.7 377.2,187.5 378.6,184.5" fill="none" stroke="#111" stroke-width="1.45" stroke-linejoin="round"/>
<ellipse cx="378.9" cy="182.9" rx="2.2" ry="1.65" fill="#6aae45"/>
<ellipse cx="377" cy="196" rx="2.3" ry="1.6" fill="#5b9bd5"/>
<polyline points="391.9,195.7 391.6,194.3 395.1,190.7 392.1,187.5 393.5,184.5" fill="none" stroke="#111" stroke-width="1.45" stroke-linejoin="round"/>
<ellipse cx="393.8" cy="182.9" rx="2.2" ry="1.65" fill="#6aae45"/>
<ellipse cx="391.9" cy="196" rx="2.3" ry="1.6" fill="#5b9bd5"/>
<polyline points="409.2,195.7 408.9,194.3 412.4,190.7 409.4,187.5 410.8,184.5" fill="none" stroke="#111" stroke-width="1.45" stroke-linejoin="round"/>
<ellipse cx="411.1" cy="182.9" rx="2.2" ry="1.65" fill="#6aae45"/>
<ellipse cx="409.2" cy="196" rx="2.3" ry="1.6" fill="#5b9bd5"/>
<polyline points="417.2,195.7 416.9,194.3 420.4,190.7 417.4,187.5 418.8,184.5" fill="none" stroke="#111" stroke-width="1.45" stroke-linejoin="round"/>
<ellipse cx="419.1" cy="182.9" rx="2.2" ry="1.65" fill="#6aae45"/>
<ellipse cx="417.2" cy="196" rx="2.3" ry="1.6" fill="#5b9bd5"/>
<polyline points="383.2,136.8 383.31,137.3 383.65,137.8 384.19,138.31 384.89,138.81 385.71,139.31 386.61,139.81 387.51,140.32 388.37,140.82 389.13,141.32 389.74,141.82 390.17,142.33 390.38,142.83 390.36,143.33 390.12,143.83 389.67,144.33 389.03,144.84 388.25,145.34 387.38,145.84 386.48,146.34 385.59,146.85 384.78,147.35 384.1,147.85 383.59,148.35 383.28,148.86 383.2,149.36 383.35,149.86 383.72,150.36 384.28,150.86 385,151.37 385.84,151.87 386.74,152.37 387.64,152.87 388.49,153.38 389.23,153.88 389.82,154.38 390.21,154.88 390.39,155.39 390.34,155.89 390.07,156.39 389.59,156.89 388.93,157.39 388.13,157.9 387.25,158.4 386.35,158.9 385.47,159.4 384.67,159.91 384.01,160.41 383.53,160.91 383.26,161.41 383.21,161.91 383.39,162.42 383.78,162.92 384.37,163.42 385.11,163.92 385.96,164.43 386.86,164.93 387.76,165.43 388.6,165.93 389.32,166.44 389.88,166.94 390.25,167.44 390.4,167.94 390.32,168.44 390.01,168.95 389.5,169.45 388.82,169.95 388.01,170.45 387.12,170.96 386.22,171.46 385.35,171.96 384.57,172.46 383.93,172.97 383.48,173.47 383.24,173.97 383.22,174.47 383.43,174.97 383.86,175.48 384.47,175.98 385.23,176.48 386.09,176.98 386.99,177.49 387.89,177.99 388.71,178.49 389.41,178.99 389.95,179.5 390.29,180 390.4,180.5 383.7,187 383.2,195.5" fill="none" stroke="#5b9bd5" stroke-width="1.5" stroke-linejoin="round" stroke-linecap="round" />
<ellipse cx="383.2" cy="196" rx="2.3" ry="1.6" fill="#5b9bd5"/>
<polyline points="382.9,133.4 383.01,133.9 383.35,134.4 383.89,134.91 384.59,135.41 385.41,135.91 386.31,136.41 387.21,136.92 388.07,137.42 388.83,137.92 389.44,138.42 389.87,138.93 390.08,139.43 390.06,139.93 389.82,140.43 389.37,140.93 388.73,141.44 387.95,141.94 387.08,142.44 386.18,142.94 385.29,143.45 384.48,143.95 383.8,144.45 383.29,144.95 382.98,145.46 382.9,145.96 383.05,146.46 383.42,146.96 383.98,147.46 384.7,147.97 385.54,148.47 386.44,148.97 387.34,149.47 388.19,149.98 388.93,150.48 389.52,150.98 389.91,151.48 390.09,151.99 390.04,152.49 389.77,152.99 389.29,153.49 388.63,153.99 387.83,154.5 386.95,155 386.05,155.5 385.17,156 384.37,156.51 383.71,157.01 383.23,157.51 382.96,158.01 382.91,158.51 383.09,159.02 383.48,159.52 384.07,160.02 384.81,160.52 385.66,161.03 386.56,161.53 387.46,162.03 388.3,162.53 389.02,163.04 389.58,163.54 389.95,164.04 390.1,164.54 390.02,165.04 389.71,165.55 389.2,166.05 388.52,166.55 387.71,167.05 386.82,167.56 385.92,168.06 385.05,168.56 384.27,169.06 383.63,169.57 383.18,170.07 382.94,170.57 382.92,171.07 383.13,171.57 383.56,172.08 384.17,172.58 384.93,173.08 385.79,173.58 386.69,174.09 387.59,174.59 388.41,175.09 389.11,175.59 389.65,176.1 389.99,176.6 390.1,177.1 384.9,182.98" fill="none" stroke="#f2321f" stroke-width="1.65" stroke-linejoin="round" stroke-linecap="round" />
<polyline points="400.7,136.8 400.81,137.3 401.15,137.8 401.69,138.31 402.39,138.81 403.21,139.31 404.11,139.81 405.01,140.32 405.87,140.82 406.63,141.32 407.24,141.82 407.67,142.33 407.88,142.83 407.86,143.33 407.62,143.83 407.17,144.33 406.53,144.84 405.75,145.34 404.88,145.84 403.98,146.34 403.09,146.85 402.28,147.35 401.6,147.85 401.09,148.35 400.78,148.86 400.7,149.36 400.85,149.86 401.22,150.36 401.78,150.86 402.5,151.37 403.34,151.87 404.24,152.37 405.14,152.87 405.99,153.38 406.73,153.88 407.32,154.38 407.71,154.88 407.89,155.39 407.84,155.89 407.57,156.39 407.09,156.89 406.43,157.39 405.63,157.9 404.75,158.4 403.85,158.9 402.97,159.4 402.17,159.91 401.51,160.41 401.03,160.91 400.76,161.41 400.71,161.91 400.89,162.42 401.28,162.92 401.87,163.42 402.61,163.92 403.46,164.43 404.36,164.93 405.26,165.43 406.1,165.93 406.82,166.44 407.38,166.94 407.75,167.44 407.9,167.94 407.82,168.44 407.51,168.95 407,169.45 406.32,169.95 405.51,170.45 404.62,170.96 403.72,171.46 402.85,171.96 402.07,172.46 401.43,172.97 400.98,173.47 400.74,173.97 400.72,174.47 400.93,174.97 401.36,175.48 401.97,175.98 402.73,176.48 403.59,176.98 404.49,177.49 405.39,177.99 406.21,178.49 406.91,178.99 407.45,179.5 407.79,180 407.9,180.5 401.2,187 400.7,195.5" fill="none" stroke="#5b9bd5" stroke-width="1.5" stroke-linejoin="round" stroke-linecap="round" />
<ellipse cx="400.7" cy="196" rx="2.3" ry="1.6" fill="#5b9bd5"/>
<polyline points="424.9,136.8 425.01,137.3 425.35,137.8 425.89,138.31 426.59,138.81 427.41,139.31 428.31,139.81 429.21,140.32 430.07,140.82 430.83,141.32 431.44,141.82 431.87,142.33 432.08,142.83 432.06,143.33 431.82,143.83 431.37,144.33 430.73,144.84 429.95,145.34 429.08,145.84 428.18,146.34 427.29,146.85 426.48,147.35 425.8,147.85 425.29,148.35 424.98,148.86 424.9,149.36 425.05,149.86 425.42,150.36 425.98,150.86 426.7,151.37 427.54,151.87 428.44,152.37 429.34,152.87 430.19,153.38 430.93,153.88 431.52,154.38 431.91,154.88 432.09,155.39 432.04,155.89 431.77,156.39 431.29,156.89 430.63,157.39 429.83,157.9 428.95,158.4 428.05,158.9 427.17,159.4 426.37,159.91 425.71,160.41 425.23,160.91 424.96,161.41 424.91,161.91 425.09,162.42 425.48,162.92 426.07,163.42 426.81,163.92 427.66,164.43 428.56,164.93 429.46,165.43 430.3,165.93 431.02,166.44 431.58,166.94 431.95,167.44 432.1,167.94 432.02,168.44 431.71,168.95 431.2,169.45 430.52,169.95 429.71,170.45 428.82,170.96 427.92,171.46 427.05,171.96 426.27,172.46 425.63,172.97 425.18,173.47 424.94,173.97 424.92,174.47 425.13,174.97 425.56,175.48 426.17,175.98 426.93,176.48 427.79,176.98 428.69,177.49 429.59,177.99 430.41,178.49 431.11,178.99 431.65,179.5 431.99,180 432.1,180.5 425.4,187 424.9,195.5" fill="none" stroke="#5b9bd5" stroke-width="1.5" stroke-linejoin="round" stroke-linecap="round" />
<ellipse cx="424.9" cy="196" rx="2.3" ry="1.6" fill="#5b9bd5"/>
<polyline points="424.6,133.4 424.71,133.9 425.05,134.4 425.59,134.91 426.29,135.41 427.11,135.91 428.01,136.41 428.91,136.92 429.77,137.42 430.53,137.92 431.14,138.42 431.57,138.93 431.78,139.43 431.76,139.93 431.52,140.43 431.07,140.93 430.43,141.44 429.65,141.94 428.78,142.44 427.88,142.94 426.99,143.45 426.18,143.95 425.5,144.45 424.99,144.95 424.68,145.46 424.6,145.96 424.75,146.46 425.12,146.96 425.68,147.46 426.4,147.97 427.24,148.47 428.14,148.97 429.04,149.47 429.89,149.98 430.63,150.48 431.22,150.98 431.61,151.48 431.79,151.99 431.74,152.49 431.47,152.99 430.99,153.49 430.33,153.99 429.53,154.5 428.65,155 427.75,155.5 426.87,156 426.07,156.51 425.41,157.01 424.93,157.51 424.66,158.01 424.61,158.51 424.79,159.02 425.18,159.52 425.77,160.02 426.51,160.52 427.36,161.03 428.26,161.53 429.16,162.03 430,162.53 430.72,163.04 431.28,163.54 431.65,164.04 431.8,164.54 431.72,165.04 431.41,165.55 430.9,166.05 430.22,166.55 429.41,167.05 428.52,167.56 427.62,168.06 426.75,168.56 425.97,169.06 425.33,169.57 424.88,170.07 424.64,170.57 424.62,171.07 424.83,171.57 425.26,172.08 425.87,172.58 426.63,173.08 427.49,173.58 428.39,174.09 429.29,174.59 430.11,175.09 430.81,175.59 431.35,176.1 431.69,176.6 431.8,177.1 426.6,182.98" fill="none" stroke="#f2321f" stroke-width="1.65" stroke-linejoin="round" stroke-linecap="round" />
<polyline points="457.3,219.5 483.69,204.7 510.2,219.5" fill="none" stroke="#ee8236" stroke-width="1.4"/>
<line x1="483.69" y1="204.7" x2="483.69" y2="223.2" stroke="#333" stroke-width="0.9" stroke-dasharray="2.2,1.4"/>
<path d="M485.89,222.3 Q493.19,221.2 495.19,215.7" fill="none" stroke="#222" stroke-width="0.9"/>
<polygon points="496.09,214.1 496.59,217.3 493.89,216.3" fill="#222"/>
<polygon points="484.89,222.5 487.69,220.7 487.69,223.6" fill="#222"/>
<text x="494.19" y="228.3" font-family="'Liberation Serif', 'Times New Roman', serif" font-size="8.2" fill="#222" stroke="#222" stroke-width="0.15">&#952;<tspan font-size="5.2" dy="1.4">SPR</tspan></text>
<rect x="454.8" y="196.9" width="57.2" height="7.8" fill="#f7b935"/>
<polyline points="458.1,195.1 457.8,193.7 461.3,190.1 458.3,186.9 459.7,183.9" fill="none" stroke="#111" stroke-width="1.45" stroke-linejoin="round"/>
<ellipse cx="460" cy="182.3" rx="2.2" ry="1.65" fill="#6aae45"/>
<ellipse cx="458.1" cy="195.4" rx="2.3" ry="1.6" fill="#5b9bd5"/>
<polyline points="473,195.1 472.7,193.7 476.2,190.1 473.2,186.9 474.6,183.9" fill="none" stroke="#111" stroke-width="1.45" stroke-linejoin="round"/>
<ellipse cx="474.9" cy="182.3" rx="2.2" ry="1.65" fill="#6aae45"/>
<ellipse cx="473" cy="195.4" rx="2.3" ry="1.6" fill="#5b9bd5"/>
<polyline points="490.3,195.1 490,193.7 493.5,190.1 490.5,186.9 491.9,183.9" fill="none" stroke="#111" stroke-width="1.45" stroke-linejoin="round"/>
<ellipse cx="492.2" cy="182.3" rx="2.2" ry="1.65" fill="#6aae45"/>
<ellipse cx="490.3" cy="195.4" rx="2.3" ry="1.6" fill="#5b9bd5"/>
<polyline points="498.3,195.1 498,193.7 501.5,190.1 498.5,186.9 499.9,183.9" fill="none" stroke="#111" stroke-width="1.45" stroke-linejoin="round"/>
<ellipse cx="500.2" cy="182.3" rx="2.2" ry="1.65" fill="#6aae45"/>
<ellipse cx="498.3" cy="195.4" rx="2.3" ry="1.6" fill="#5b9bd5"/>
<polyline points="464.3,136.2 464.41,136.7 464.75,137.2 465.29,137.71 465.99,138.21 466.81,138.71 467.71,139.21 468.61,139.72 469.47,140.22 470.23,140.72 470.84,141.22 471.27,141.73 471.48,142.23 471.46,142.73 471.22,143.23 470.77,143.73 470.13,144.24 469.35,144.74 468.48,145.24 467.58,145.74 466.69,146.25 465.88,146.75 465.2,147.25 464.69,147.75 464.38,148.26 464.3,148.76 464.45,149.26 464.82,149.76 465.38,150.26 466.1,150.77 466.94,151.27 467.84,151.77 468.74,152.27 469.59,152.78 470.33,153.28 470.92,153.78 471.31,154.28 471.49,154.79 471.44,155.29 471.17,155.79 470.69,156.29 470.03,156.79 469.23,157.3 468.35,157.8 467.45,158.3 466.57,158.8 465.77,159.31 465.11,159.81 464.63,160.31 464.36,160.81 464.31,161.31 464.49,161.82 464.88,162.32 465.47,162.82 466.21,163.32 467.06,163.83 467.96,164.33 468.86,164.83 469.7,165.33 470.42,165.84 470.98,166.34 471.35,166.84 471.5,167.34 471.42,167.84 471.11,168.35 470.6,168.85 469.92,169.35 469.11,169.85 468.22,170.36 467.32,170.86 466.45,171.36 465.67,171.86 465.03,172.37 464.58,172.87 464.34,173.37 464.32,173.87 464.53,174.37 464.96,174.88 465.57,175.38 466.33,175.88 467.19,176.38 468.09,176.89 468.99,177.39 469.81,177.89 470.51,178.39 471.05,178.9 471.39,179.4 471.5,179.9 464.8,186.4 464.3,194.9" fill="none" stroke="#5b9bd5" stroke-width="1.5" stroke-linejoin="round" stroke-linecap="round" />
<ellipse cx="464.3" cy="195.4" rx="2.3" ry="1.6" fill="#5b9bd5"/>
<polyline points="464,132.8 464.11,133.3 464.45,133.8 464.99,134.31 465.69,134.81 466.51,135.31 467.41,135.81 468.31,136.32 469.17,136.82 469.93,137.32 470.54,137.82 470.97,138.33 471.18,138.83 471.16,139.33 470.92,139.83 470.47,140.33 469.83,140.84 469.05,141.34 468.18,141.84 467.28,142.34 466.39,142.85 465.58,143.35 464.9,143.85 464.39,144.35 464.08,144.86 464,145.36 464.15,145.86 464.52,146.36 465.08,146.86 465.8,147.37 466.64,147.87 467.54,148.37 468.44,148.87 469.29,149.38 470.03,149.88 470.62,150.38 471.01,150.88 471.19,151.39 471.14,151.89 470.87,152.39 470.39,152.89 469.73,153.39 468.93,153.9 468.05,154.4 467.15,154.9 466.27,155.4 465.47,155.91 464.81,156.41 464.33,156.91 464.06,157.41 464.01,157.91 464.19,158.42 464.58,158.92 465.17,159.42 465.91,159.92 466.76,160.43 467.66,160.93 468.56,161.43 469.4,161.93 470.12,162.44 470.68,162.94 471.05,163.44 471.2,163.94 471.12,164.44 470.81,164.95 470.3,165.45 469.62,165.95 468.81,166.45 467.92,166.96 467.02,167.46 466.15,167.96 465.37,168.46 464.73,168.97 464.28,169.47 464.04,169.97 464.02,170.47 464.23,170.97 464.66,171.48 465.27,171.98 466.03,172.48 466.89,172.98 467.79,173.49 468.69,173.99 469.51,174.49 470.21,174.99 470.75,175.5 471.09,176 471.2,176.5 466,182.38" fill="none" stroke="#f2321f" stroke-width="1.65" stroke-linejoin="round" stroke-linecap="round" />
<polyline points="481.2,136.2 481.31,136.7 481.65,137.2 482.19,137.71 482.89,138.21 483.71,138.71 484.61,139.21 485.51,139.72 486.37,140.22 487.13,140.72 487.74,141.22 488.17,141.73 488.38,142.23 488.36,142.73 488.12,143.23 487.67,143.73 487.03,144.24 486.25,144.74 485.38,145.24 484.48,145.74 483.59,146.25 482.78,146.75 482.1,147.25 481.59,147.75 481.28,148.26 481.2,148.76 481.35,149.26 481.72,149.76 482.28,150.26 483,150.77 483.84,151.27 484.74,151.77 485.64,152.27 486.49,152.78 487.23,153.28 487.82,153.78 488.21,154.28 488.39,154.79 488.34,155.29 488.07,155.79 487.59,156.29 486.93,156.79 486.13,157.3 485.25,157.8 484.35,158.3 483.47,158.8 482.67,159.31 482.01,159.81 481.53,160.31 481.26,160.81 481.21,161.31 481.39,161.82 481.78,162.32 482.37,162.82 483.11,163.32 483.96,163.83 484.86,164.33 485.76,164.83 486.6,165.33 487.32,165.84 487.88,166.34 488.25,166.84 488.4,167.34 488.32,167.84 488.01,168.35 487.5,168.85 486.82,169.35 486.01,169.85 485.12,170.36 484.22,170.86 483.35,171.36 482.57,171.86 481.93,172.37 481.48,172.87 481.24,173.37 481.22,173.87 481.43,174.37 481.86,174.88 482.47,175.38 483.23,175.88 484.09,176.38 484.99,176.89 485.89,177.39 486.71,177.89 487.41,178.39 487.95,178.9 488.29,179.4 488.4,179.9 481.7,186.4 481.2,194.9" fill="none" stroke="#5b9bd5" stroke-width="1.5" stroke-linejoin="round" stroke-linecap="round" />
<ellipse cx="481.2" cy="195.4" rx="2.3" ry="1.6" fill="#5b9bd5"/>
<polyline points="505.7,136.2 505.81,136.7 506.15,137.2 506.69,137.71 507.39,138.21 508.21,138.71 509.11,139.21 510.01,139.72 510.87,140.22 511.63,140.72 512.24,141.22 512.67,141.73 512.88,142.23 512.86,142.73 512.62,143.23 512.17,143.73 511.53,144.24 510.75,144.74 509.88,145.24 508.98,145.74 508.09,146.25 507.28,146.75 506.6,147.25 506.09,147.75 505.78,148.26 505.7,148.76 505.85,149.26 506.22,149.76 506.78,150.26 507.5,150.77 508.34,151.27 509.24,151.77 510.14,152.27 510.99,152.78 511.73,153.28 512.32,153.78 512.71,154.28 512.89,154.79 512.84,155.29 512.57,155.79 512.09,156.29 511.43,156.79 510.63,157.3 509.75,157.8 508.85,158.3 507.97,158.8 507.17,159.31 506.51,159.81 506.03,160.31 505.76,160.81 505.71,161.31 505.89,161.82 506.28,162.32 506.87,162.82 507.61,163.32 508.46,163.83 509.36,164.33 510.26,164.83 511.1,165.33 511.82,165.84 512.38,166.34 512.75,166.84 512.9,167.34 512.82,167.84 512.51,168.35 512,168.85 511.32,169.35 510.51,169.85 509.62,170.36 508.72,170.86 507.85,171.36 507.07,171.86 506.43,172.37 505.98,172.87 505.74,173.37 505.72,173.87 505.93,174.37 506.36,174.88 506.97,175.38 507.73,175.88 508.59,176.38 509.49,176.89 510.39,177.39 511.21,177.89 511.91,178.39 512.45,178.9 512.79,179.4 512.9,179.9 506.2,186.4 505.7,194.9" fill="none" stroke="#5b9bd5" stroke-width="1.5" stroke-linejoin="round" stroke-linecap="round" />
<ellipse cx="505.7" cy="195.4" rx="2.3" ry="1.6" fill="#5b9bd5"/>
<polyline points="505.4,132.8 505.51,133.3 505.85,133.8 506.39,134.31 507.09,134.81 507.91,135.31 508.81,135.81 509.71,136.32 510.57,136.82 511.33,137.32 511.94,137.82 512.37,138.33 512.58,138.83 512.56,139.33 512.32,139.83 511.87,140.33 511.23,140.84 510.45,141.34 509.58,141.84 508.68,142.34 507.79,142.85 506.98,143.35 506.3,143.85 505.79,144.35 505.48,144.86 505.4,145.36 505.55,145.86 505.92,146.36 506.48,146.86 507.2,147.37 508.04,147.87 508.94,148.37 509.84,148.87 510.69,149.38 511.43,149.88 512.02,150.38 512.41,150.88 512.59,151.39 512.54,151.89 512.27,152.39 511.79,152.89 511.13,153.39 510.33,153.9 509.45,154.4 508.55,154.9 507.67,155.4 506.87,155.91 506.21,156.41 505.73,156.91 505.46,157.41 505.41,157.91 505.59,158.42 505.98,158.92 506.57,159.42 507.31,159.92 508.16,160.43 509.06,160.93 509.96,161.43 510.8,161.93 511.52,162.44 512.08,162.94 512.45,163.44 512.6,163.94 512.52,164.44 512.21,164.95 511.7,165.45 511.02,165.95 510.21,166.45 509.32,166.96 508.42,167.46 507.55,167.96 506.77,168.46 506.13,168.97 505.68,169.47 505.44,169.97 505.42,170.47 505.63,170.97 506.06,171.48 506.67,171.98 507.43,172.48 508.29,172.98 509.19,173.49 510.09,173.99 510.91,174.49 511.61,174.99 512.15,175.5 512.49,176 512.6,176.5 507.4,182.38" fill="none" stroke="#f2321f" stroke-width="1.65" stroke-linejoin="round" stroke-linecap="round" />
<text x="40.1" y="228.6" font-family="'Liberation Serif', 'Times New Roman', serif" font-weight="bold" font-size="8.6" fill="#222" stroke="#222" stroke-width="0.2" textLength="15" lengthAdjust="spacingAndGlyphs">laser</text>
<text x="78.2" y="266.4" font-family="'Liberation Serif', 'Times New Roman', serif" font-size="10.5" font-weight="bold" font-style="italic" text-anchor="middle" fill="#111" stroke="#111" stroke-width="0.25" textLength="36.9" lengthAdjust="spacingAndGlyphs">Baseline</text>
<text x="214.6" y="266.4" font-family="'Liberation Serif', 'Times New Roman', serif" font-size="10.5" font-weight="bold" font-style="italic" text-anchor="middle" fill="#111" stroke="#111" stroke-width="0.25" textLength="59.6" lengthAdjust="spacingAndGlyphs">Hybridization</text>
<text x="325.6" y="267.2" font-family="'Liberation Serif', 'Times New Roman', serif" font-size="10.5" font-weight="bold" font-style="italic" text-anchor="middle" fill="#111" stroke="#111" stroke-width="0.25" textLength="53.2" lengthAdjust="spacingAndGlyphs">Dissociation</text>
<text x="402.5" y="242.6" font-family="'Liberation Serif', 'Times New Roman', serif" font-size="10.5" font-weight="bold" font-style="italic" text-anchor="middle" fill="#111" stroke="#111" stroke-width="0.25" textLength="45.5" lengthAdjust="spacingAndGlyphs">Combined</text>
<text x="402.5" y="254.3" font-family="'Liberation Serif', 'Times New Roman', serif" font-size="10.5" font-weight="bold" font-style="italic" text-anchor="middle" fill="#111" stroke="#111" stroke-width="0.25" textLength="71.5" lengthAdjust="spacingAndGlyphs">Eletrochemical-</text>
<text x="402.5" y="266" font-family="'Liberation Serif', 'Times New Roman', serif" font-size="10.5" font-weight="bold" font-style="italic" text-anchor="middle" fill="#111" stroke="#111" stroke-width="0.25" textLength="61.5" lengthAdjust="spacingAndGlyphs">SPR detection</text>
<text x="484.8" y="267.2" font-family="'Liberation Serif', 'Times New Roman', serif" font-size="10.5" font-weight="bold" font-style="italic" text-anchor="middle" fill="#111" stroke="#111" stroke-width="0.25" textLength="37.6" lengthAdjust="spacingAndGlyphs">Baseline</text>
<path d="M37.5,273.9 L37.5,21.3" fill="none" stroke="#111" stroke-width="2.4" stroke-dasharray="7.6,6.75"/>
<path d="M37.5,273.9 L524,273.9" fill="none" stroke="#111" stroke-width="2.5" stroke-dasharray="7.9,6.55"/>
<polygon points="37.4,14.3 34.6,19.2 40.2,19.2" fill="#111"/>
<polygon points="532.3,274 526.2,270.9 526.2,277.1" fill="#111"/>
<text transform="translate(28.2,169) rotate(-90)" font-family="'Liberation Serif', 'Times New Roman', serif" font-weight="bold" font-size="13" fill="#111" stroke="#111" stroke-width="0.35" textLength="33" lengthAdjust="spacingAndGlyphs">Angle</text>
<text x="274.5" y="290.2" font-family="'Liberation Serif', 'Times New Roman', serif" font-weight="bold" font-size="12" fill="#111" stroke="#111" stroke-width="0.35" textLength="28" lengthAdjust="spacingAndGlyphs">Time</text>
<text x="4.1" y="18.8" font-family="'Liberation Sans', Arial, sans-serif" font-weight="bold" font-size="16.6" fill="#111" stroke="#111" stroke-width="0.6" textLength="10.7" lengthAdjust="spacingAndGlyphs">A</text>
<text x="5.0" y="310.2" font-family="'Liberation Sans', Arial, sans-serif" font-weight="bold" font-size="15.6" fill="#111" stroke="#111" stroke-width="0.5" textLength="9.2" lengthAdjust="spacingAndGlyphs">B</text>
<g stroke="#5a5a5a" stroke-width="1.1" fill="none">
<line x1="37.6" y1="323.4" x2="37.6" y2="496.5"/>
<line x1="37.6" y1="323.4" x2="256.5" y2="323.4"/>
<line x1="37.6" y1="496.5" x2="256.5" y2="496.5"/>
<line x1="293" y1="323.4" x2="512.4" y2="323.4"/>
<line x1="292" y1="496.5" x2="512.4" y2="496.5"/>
<line x1="512.4" y1="323.4" x2="512.4" y2="496.5"/>
</g>
<g stroke="#5a5a5a" stroke-width="0.9" stroke-dasharray="2,2.3">
<line x1="258" y1="323.4" x2="292" y2="323.4"/>
<line x1="258" y1="496.5" x2="292" y2="496.5"/>
</g>
<g stroke="#5a5a5a" stroke-width="1"><line x1="34.5" y1="496.38" x2="37.6" y2="496.38"/><line x1="34.5" y1="465" x2="37.6" y2="465"/><line x1="34.5" y1="433.62" x2="37.6" y2="433.62"/><line x1="34.5" y1="402.24" x2="37.6" y2="402.24"/><line x1="34.5" y1="370.86" x2="37.6" y2="370.86"/><line x1="34.5" y1="339.48" x2="37.6" y2="339.48"/><line x1="35.7" y1="480.69" x2="37.6" y2="480.69"/><line x1="35.7" y1="449.31" x2="37.6" y2="449.31"/><line x1="35.7" y1="417.93" x2="37.6" y2="417.93"/><line x1="35.7" y1="386.55" x2="37.6" y2="386.55"/><line x1="35.7" y1="355.17" x2="37.6" y2="355.17"/><line x1="35.7" y1="323.79" x2="37.6" y2="323.79"/><line x1="37.6" y1="496.5" x2="37.6" y2="499.5"/><line x1="77.34" y1="496.5" x2="77.34" y2="499.5"/><line x1="117.08" y1="496.5" x2="117.08" y2="499.5"/><line x1="156.82" y1="496.5" x2="156.82" y2="499.5"/><line x1="196.56" y1="496.5" x2="196.56" y2="499.5"/><line x1="236.3" y1="496.5" x2="236.3" y2="499.5"/><line x1="57.47" y1="496.5" x2="57.47" y2="498.5"/><line x1="97.21" y1="496.5" x2="97.21" y2="498.5"/><line x1="136.95" y1="496.5" x2="136.95" y2="498.5"/><line x1="176.69" y1="496.5" x2="176.69" y2="498.5"/><line x1="216.43" y1="496.5" x2="216.43" y2="498.5"/><line x1="300.5" y1="496.5" x2="300.5" y2="498.5"/><line x1="327" y1="496.5" x2="327" y2="499.5"/><line x1="353.5" y1="496.5" x2="353.5" y2="498.5"/><line x1="380" y1="496.5" x2="380" y2="499.5"/><line x1="406.5" y1="496.5" x2="406.5" y2="498.5"/><line x1="433" y1="496.5" x2="433" y2="499.5"/><line x1="459.5" y1="496.5" x2="459.5" y2="498.5"/><line x1="486" y1="496.5" x2="486" y2="499.5"/><line x1="512.4" y1="493.37" x2="515.6" y2="493.37"/><line x1="512.4" y1="467.1" x2="515.6" y2="467.1"/><line x1="512.4" y1="440.83" x2="515.6" y2="440.83"/><line x1="512.4" y1="414.56" x2="515.6" y2="414.56"/><line x1="512.4" y1="388.29" x2="515.6" y2="388.29"/><line x1="512.4" y1="362.02" x2="515.6" y2="362.02"/><line x1="512.4" y1="335.75" x2="515.6" y2="335.75"/><line x1="512.4" y1="480.24" x2="514.5" y2="480.24"/><line x1="512.4" y1="453.97" x2="514.5" y2="453.97"/><line x1="512.4" y1="427.7" x2="514.5" y2="427.7"/><line x1="512.4" y1="401.43" x2="514.5" y2="401.43"/><line x1="512.4" y1="375.16" x2="514.5" y2="375.16"/><line x1="512.4" y1="348.89" x2="514.5" y2="348.89"/></g>
<text x="32.8" y="499.28" font-family="'Liberation Sans', Arial, sans-serif" font-size="9.2" text-anchor="end" fill="#222" stroke="#222" stroke-width="0.12" textLength="10.98" lengthAdjust="spacingAndGlyphs">-20</text>
<text x="32.8" y="467.9" font-family="'Liberation Sans', Arial, sans-serif" font-size="9.2" text-anchor="end" fill="#222" stroke="#222" stroke-width="0.12" textLength="4.23" lengthAdjust="spacingAndGlyphs">0</text>
<text x="32.8" y="436.52" font-family="'Liberation Sans', Arial, sans-serif" font-size="9.2" text-anchor="end" fill="#222" stroke="#222" stroke-width="0.12" textLength="8.45" lengthAdjust="spacingAndGlyphs">20</text>
<text x="32.8" y="405.14" font-family="'Liberation Sans', Arial, sans-serif" font-size="9.2" text-anchor="end" fill="#222" stroke="#222" stroke-width="0.12" textLength="8.45" lengthAdjust="spacingAndGlyphs">40</text>
<text x="32.8" y="373.76" font-family="'Liberation Sans', Arial, sans-serif" font-size="9.2" text-anchor="end" fill="#222" stroke="#222" stroke-width="0.12" textLength="8.45" lengthAdjust="spacingAndGlyphs">60</text>
<text x="32.8" y="342.38" font-family="'Liberation Sans', Arial, sans-serif" font-size="9.2" text-anchor="end" fill="#222" stroke="#222" stroke-width="0.12" textLength="8.45" lengthAdjust="spacingAndGlyphs">80</text>
<text x="37.6" y="507.3" font-family="'Liberation Sans', Arial, sans-serif" font-size="8.8" text-anchor="middle" fill="#222" stroke="#222" stroke-width="0.12" textLength="3.78" lengthAdjust="spacingAndGlyphs">0</text>
<text x="77.34" y="507.3" font-family="'Liberation Sans', Arial, sans-serif" font-size="8.8" text-anchor="middle" fill="#222" stroke="#222" stroke-width="0.12" textLength="11.34" lengthAdjust="spacingAndGlyphs">200</text>
<text x="117.08" y="507.3" font-family="'Liberation Sans', Arial, sans-serif" font-size="8.8" text-anchor="middle" fill="#222" stroke="#222" stroke-width="0.12" textLength="11.34" lengthAdjust="spacingAndGlyphs">400</text>
<text x="156.82" y="507.3" font-family="'Liberation Sans', Arial, sans-serif" font-size="8.8" text-anchor="middle" fill="#222" stroke="#222" stroke-width="0.12" textLength="11.34" lengthAdjust="spacingAndGlyphs">600</text>
<text x="196.56" y="507.3" font-family="'Liberation Sans', Arial, sans-serif" font-size="8.8" text-anchor="middle" fill="#222" stroke="#222" stroke-width="0.12" textLength="11.34" lengthAdjust="spacingAndGlyphs">800</text>
<text x="236.3" y="507.3" font-family="'Liberation Sans', Arial, sans-serif" font-size="8.8" text-anchor="middle" fill="#222" stroke="#222" stroke-width="0.12" textLength="15.12" lengthAdjust="spacingAndGlyphs">1000</text>
<text x="327" y="507.3" font-family="'Liberation Sans', Arial, sans-serif" font-size="8.8" text-anchor="middle" fill="#222" stroke="#222" stroke-width="0.12" textLength="15.12" lengthAdjust="spacingAndGlyphs">1050</text>
<text x="380" y="507.3" font-family="'Liberation Sans', Arial, sans-serif" font-size="8.8" text-anchor="middle" fill="#222" stroke="#222" stroke-width="0.12" textLength="15.12" lengthAdjust="spacingAndGlyphs">1100</text>
<text x="433" y="507.3" font-family="'Liberation Sans', Arial, sans-serif" font-size="8.8" text-anchor="middle" fill="#222" stroke="#222" stroke-width="0.12" textLength="15.12" lengthAdjust="spacingAndGlyphs">1150</text>
<text x="486" y="507.3" font-family="'Liberation Sans', Arial, sans-serif" font-size="8.8" text-anchor="middle" fill="#222" stroke="#222" stroke-width="0.12" textLength="15.12" lengthAdjust="spacingAndGlyphs">1200</text>
<text x="517.5" y="496.27" font-family="'Liberation Sans', Arial, sans-serif" font-size="9.2" text-anchor="start" fill="#222" stroke="#222" stroke-width="0.12" textLength="15.21" lengthAdjust="spacingAndGlyphs">-100</text>
<text x="517.5" y="470" font-family="'Liberation Sans', Arial, sans-serif" font-size="9.2" text-anchor="start" fill="#222" stroke="#222" stroke-width="0.12" textLength="4.23" lengthAdjust="spacingAndGlyphs">0</text>
<text x="517.5" y="443.73" font-family="'Liberation Sans', Arial, sans-serif" font-size="9.2" text-anchor="start" fill="#222" stroke="#222" stroke-width="0.12" textLength="12.68" lengthAdjust="spacingAndGlyphs">100</text>
<text x="517.5" y="417.46" font-family="'Liberation Sans', Arial, sans-serif" font-size="9.2" text-anchor="start" fill="#222" stroke="#222" stroke-width="0.12" textLength="12.68" lengthAdjust="spacingAndGlyphs">200</text>
<text x="517.5" y="391.19" font-family="'Liberation Sans', Arial, sans-serif" font-size="9.2" text-anchor="start" fill="#222" stroke="#222" stroke-width="0.12" textLength="12.68" lengthAdjust="spacingAndGlyphs">300</text>
<text x="517.5" y="364.92" font-family="'Liberation Sans', Arial, sans-serif" font-size="9.2" text-anchor="start" fill="#222" stroke="#222" stroke-width="0.12" textLength="12.68" lengthAdjust="spacingAndGlyphs">400</text>
<text x="517.5" y="338.65" font-family="'Liberation Sans', Arial, sans-serif" font-size="9.2" text-anchor="start" fill="#222" stroke="#222" stroke-width="0.12" textLength="12.68" lengthAdjust="spacingAndGlyphs">500</text>
<text transform="translate(17.3,428) rotate(-90)" font-family="'Liberation Sans', Arial, sans-serif" font-size="9.8" fill="#222" stroke="#222" stroke-width="0.15" textLength="40.8" lengthAdjust="spacingAndGlyphs">Angle / m<tspan font-size="7" dy="-4">0</tspan></text>
<text transform="translate(538.2,382.2) rotate(90)" font-family="'Liberation Sans', Arial, sans-serif" font-size="9.8" fill="#222" stroke="#222" stroke-width="0.15" textLength="40.5" lengthAdjust="spacingAndGlyphs">Angle / m<tspan font-size="7" dy="-4">0</tspan></text>
<text x="246.2" y="517" font-family="'Liberation Sans', Arial, sans-serif" font-size="9.4" fill="#222" stroke="#222" stroke-width="0.15" textLength="31" lengthAdjust="spacingAndGlyphs">Time / s</text>
<text x="47.8" y="345.2" font-family="'Liberation Sans', Arial, sans-serif" font-weight="bold" font-size="17" fill="#111" stroke="#111" stroke-width="0.4" textLength="8" lengthAdjust="spacingAndGlyphs">a</text>
<polyline points="37.6,462.18 38.2,463.84 38.79,465.28 39.39,466.55 39.98,467.65 40.58,468.61 41.18,469.45 41.77,470.18 42.37,470.82 42.96,471.38 43.56,471.87 44.16,472.29 44.75,472.66 45.35,472.99 45.95,473.27 46.54,473.51 47.14,473.73 47.73,473.92 48.33,474.08 48.93,474.22 49.52,474.35 49.92,475.2 49.92,422.32 51.11,423.81 52.3,423.56 53.5,422.82 54.69,421.96 55.88,421.12 57.07,420.31 58.26,419.55 59.46,418.84 60.65,418.17 61.84,417.53 63.03,416.93 64.23,416.36 65.42,415.82 66.61,415.3 67.8,414.81 68.99,414.34 70.19,413.89 71.38,413.45 72.57,413.03 73.76,412.63 74.96,412.24 76.15,411.87 77.34,411.5 78.53,411.15 79.72,410.81 80.92,410.48 82.11,410.16 83.3,409.85 84.49,409.55 85.69,409.26 86.88,408.97 88.07,408.7 89.26,408.42 90.45,408.16 91.65,407.9 92.84,407.65 94.03,407.41 95.22,407.17 96.42,406.93 97.61,406.7 98.8,406.48 99.99,406.26 101.18,406.04 102.38,405.83 103.57,405.63 104.76,405.43 105.95,405.23 107.15,405.03 108.34,404.84 109.53,404.66 110.72,404.47 111.91,404.29 113.11,404.12 114.3,403.94 115.49,403.77 116.68,403.6 117.87,403.44 119.07,403.27 120.26,403.11 121.45,402.95 122.64,402.8 123.84,402.64 125.03,402.49 126.22,402.34 127.41,402.2 128.6,402.05 129.8,401.91 130.99,401.77 132.18,401.63 133.37,401.49 134.57,401.35 135.76,401.22 136.95,401.08 138.14,400.95 139.33,400.82 140.53,400.69 141.72,400.56 142.91,400.43 144.1,400.31 145.3,400.18 146.49,400.06 147.68,399.94 148.87,399.82 150.06,399.7 151.26,399.58 152.45,399.46 153.64,399.34 154.83,399.22 156.03,399.11 157.22,398.99 158.41,398.88 159.6,398.76 160.79,398.65 161.99,398.54 163.18,398.43 164.37,398.32 165.56,398.21 166.75,398.1 167.95,397.99 169.14,397.88 170.33,397.77 171.52,397.67 172.72,397.56 173.91,397.45 175.1,397.35 176.29,397.24 177.48,397.14 178.68,397.03 179.87,396.93 181.06,396.82 182.25,396.72 183.45,396.62 184.64,396.51 185.83,396.41 187.02,396.31 188.21,396.21 189.41,396.11 190.6,396 191.79,395.9 192.98,395.8 194.18,395.7 195.37,395.6 196.56,395.5 197.75,395.4 198.94,395.3 200.14,395.2 201.33,395.11 202.52,395.01 203.71,394.91 204.91,394.81 206.1,394.71 207.29,394.61 208.48,394.52 209.67,394.42 210.87,394.32 212.06,394.22 213.25,394.13 214.44,394.03 215.64,393.93 216.83,393.84 218.02,393.74 219.21,393.64 220.4,393.55 221.6,393.45 222.79,393.35 223.98,393.26 225.17,393.16 226.36,393.07 227.56,392.97 228.75,392.87 229.35,392.83 229.54,419.34 229.94,421.43 230.34,423.24 230.74,424.81 231.13,426.17 231.53,427.35 231.93,428.37 232.33,429.26 232.72,430.03 233.12,430.69 233.52,431.27 233.92,431.77 234.31,432.21 234.71,432.58 235.11,432.91 235.51,433.19 235.9,433.44 236.3,433.65 236.7,433.83 237.09,433.99 237.49,434.13 237.89,434.25 238.29,434.35 238.68,434.45 239.08,434.52 239.48,434.59 239.88,434.65 240.27,434.7 240.67,434.74 240.87,422.48" fill="none" stroke="#808000" stroke-width="1.9" stroke-linejoin="round" stroke-linecap="round" />
<polyline points="37.6,462.18 38.2,463.96 38.79,465.51 39.39,466.86 39.98,468.05 40.58,469.08 41.18,469.98 41.77,470.76 42.37,471.45 42.96,472.05 43.56,472.57 44.16,473.02 44.75,473.42 45.35,473.77 45.95,474.07 46.54,474.33 47.14,474.56 47.73,474.77 48.33,474.94 48.93,475.09 49.52,475.23 49.92,476.14 49.92,419.5 51.11,421.15 52.3,421.07 53.5,420.48 54.69,419.78 55.88,419.08 57.07,418.42 58.26,417.79 59.46,417.22 60.65,416.67 61.84,416.16 63.03,415.68 64.23,415.23 65.42,414.81 66.61,414.4 67.8,414.01 68.99,413.65 70.19,413.29 71.38,412.96 72.57,412.63 73.76,412.32 74.96,412.03 76.15,411.74 77.34,411.46 78.53,411.19 79.72,410.93 80.92,410.68 82.11,410.44 83.3,410.2 84.49,409.97 85.69,409.74 86.88,409.53 88.07,409.31 89.26,409.11 90.45,408.9 91.65,408.71 92.84,408.51 94.03,408.33 95.22,408.14 96.42,407.96 97.61,407.79 98.8,407.62 99.99,407.45 101.18,407.28 102.38,407.12 103.57,406.96 104.76,406.81 105.95,406.65 107.15,406.5 108.34,406.36 109.53,406.21 110.72,406.07 111.91,405.93 113.11,405.79 114.3,405.66 115.49,405.52 116.68,405.39 117.87,405.26 119.07,405.14 120.26,405.01 121.45,404.89 122.64,404.77 123.84,404.65 125.03,404.53 126.22,404.41 127.41,404.29 128.6,404.18 129.8,404.07 130.99,403.95 132.18,403.84 133.37,403.73 134.57,403.63 135.76,403.52 136.95,403.41 138.14,403.31 139.33,403.21 140.53,403.1 141.72,403 142.91,402.9 144.1,402.8 145.3,402.7 146.49,402.6 147.68,402.5 148.87,402.41 150.06,402.31 151.26,402.22 152.45,402.12 153.64,402.03 154.83,401.93 156.03,401.84 157.22,401.75 158.41,401.66 159.6,401.57 160.79,401.48 161.99,401.39 163.18,401.3 164.37,401.21 165.56,401.12 166.75,401.03 167.95,400.94 169.14,400.85 170.33,400.77 171.52,400.68 172.72,400.6 173.91,400.51 175.1,400.42 176.29,400.34 177.48,400.25 178.68,400.17 179.87,400.08 181.06,400 182.25,399.92 183.45,399.83 184.64,399.75 185.83,399.67 187.02,399.58 188.21,399.5 189.41,399.42 190.6,399.34 191.79,399.26 192.98,399.17 194.18,399.09 195.37,399.01 196.56,398.93 197.75,398.85 198.94,398.77 200.14,398.69 201.33,398.61 202.52,398.53 203.71,398.45 204.91,398.37 206.1,398.29 207.29,398.21 208.48,398.13 209.67,398.05 210.87,397.97 212.06,397.89 213.25,397.81 214.44,397.73 215.64,397.65 216.83,397.57 218.02,397.49 219.21,397.41 220.4,397.34 221.6,397.26 222.79,397.18 223.98,397.1 225.17,397.02 226.36,396.94 227.56,396.87 228.75,396.79 229.35,396.75 229.54,430.48 229.94,431.63 230.34,432.63 230.74,433.49 231.13,434.24 231.53,434.89 231.93,435.45 232.33,435.94 232.72,436.36 233.12,436.73 233.52,437.04 233.92,437.32 234.31,437.56 234.71,437.76 235.11,437.94 235.51,438.1 235.9,438.23 236.3,438.35 236.7,438.45 237.09,438.54 237.49,438.62 237.89,438.68 238.29,438.74 238.68,438.79 239.08,438.83 239.48,438.87 239.88,438.9 240.27,438.93 240.67,438.95 240.87,426.56" fill="none" stroke="#ffff00" stroke-width="1.9" stroke-linejoin="round" stroke-linecap="round" />
<polyline points="37.6,462.18 38.2,464.08 38.79,465.73 39.39,467.18 39.98,468.44 40.58,469.54 41.18,470.5 41.77,471.34 42.37,472.07 42.96,472.71 43.56,473.27 44.16,473.76 44.75,474.18 45.35,474.55 45.95,474.87 46.54,475.15 47.14,475.4 47.73,475.61 48.33,475.8 48.93,475.96 49.52,476.11 49.92,477.08 49.92,418.71 51.11,420.43 52.3,420.4 53.5,419.87 54.69,419.22 55.88,418.58 57.07,417.97 58.26,417.4 59.46,416.86 60.65,416.37 61.84,415.9 63.03,415.47 64.23,415.06 65.42,414.67 66.61,414.31 67.8,413.96 68.99,413.63 70.19,413.31 71.38,413.01 72.57,412.72 73.76,412.45 74.96,412.18 76.15,411.92 77.34,411.67 78.53,411.44 79.72,411.2 80.92,410.98 82.11,410.76 83.3,410.55 84.49,410.35 85.69,410.15 86.88,409.95 88.07,409.76 89.26,409.58 90.45,409.4 91.65,409.22 92.84,409.05 94.03,408.88 95.22,408.72 96.42,408.56 97.61,408.4 98.8,408.25 99.99,408.1 101.18,407.95 102.38,407.81 103.57,407.66 104.76,407.53 105.95,407.39 107.15,407.25 108.34,407.12 109.53,406.99 110.72,406.86 111.91,406.74 113.11,406.61 114.3,406.49 115.49,406.37 116.68,406.25 117.87,406.14 119.07,406.02 120.26,405.91 121.45,405.8 122.64,405.69 123.84,405.58 125.03,405.47 126.22,405.36 127.41,405.26 128.6,405.16 129.8,405.05 130.99,404.95 132.18,404.85 133.37,404.75 134.57,404.65 135.76,404.56 136.95,404.46 138.14,404.36 139.33,404.27 140.53,404.18 141.72,404.08 142.91,403.99 144.1,403.9 145.3,403.81 146.49,403.72 147.68,403.63 148.87,403.54 150.06,403.45 151.26,403.37 152.45,403.28 153.64,403.19 154.83,403.11 156.03,403.02 157.22,402.94 158.41,402.85 159.6,402.77 160.79,402.69 161.99,402.6 163.18,402.52 164.37,402.44 165.56,402.36 166.75,402.28 167.95,402.2 169.14,402.12 170.33,402.04 171.52,401.96 172.72,401.88 173.91,401.8 175.1,401.72 176.29,401.64 177.48,401.56 178.68,401.48 179.87,401.41 181.06,401.33 182.25,401.25 183.45,401.17 184.64,401.1 185.83,401.02 187.02,400.94 188.21,400.87 189.41,400.79 190.6,400.72 191.79,400.64 192.98,400.56 194.18,400.49 195.37,400.41 196.56,400.34 197.75,400.26 198.94,400.19 200.14,400.11 201.33,400.04 202.52,399.97 203.71,399.89 204.91,399.82 206.1,399.74 207.29,399.67 208.48,399.6 209.67,399.52 210.87,399.45 212.06,399.37 213.25,399.3 214.44,399.23 215.64,399.15 216.83,399.08 218.02,399.01 219.21,398.94 220.4,398.86 221.6,398.79 222.79,398.72 223.98,398.64 225.17,398.57 226.36,398.5 227.56,398.43 228.75,398.35 229.35,398.32 229.54,432.05 229.94,433.2 230.34,434.2 230.74,435.06 231.13,435.81 231.53,436.46 231.93,437.02 232.33,437.51 232.72,437.93 233.12,438.29 233.52,438.61 233.92,438.89 234.31,439.13 234.71,439.33 235.11,439.51 235.51,439.67 235.9,439.8 236.3,439.92 236.7,440.02 237.09,440.11 237.49,440.18 237.89,440.25 238.29,440.31 238.68,440.36 239.08,440.4 239.48,440.44 239.88,440.47 240.27,440.5 240.67,440.52 240.87,428.13" fill="none" stroke="#00ffff" stroke-width="1.9" stroke-linejoin="round" stroke-linecap="round" />
<polyline points="37.6,462.18 38.2,463.84 38.79,465.28 39.39,466.55 39.98,467.65 40.58,468.61 41.18,469.45 41.77,470.18 42.37,470.82 42.96,471.38 43.56,471.87 44.16,472.29 44.75,472.66 45.35,472.99 45.95,473.27 46.54,473.51 47.14,473.73 47.73,473.92 48.33,474.08 48.93,474.22 49.52,474.35 49.92,475.2 49.92,419.5 51.11,421.21 52.3,421.18 53.5,420.65 54.69,420.01 55.88,419.36 57.07,418.75 58.26,418.18 59.46,417.65 60.65,417.15 61.84,416.69 63.03,416.25 64.23,415.84 65.42,415.46 66.61,415.09 67.8,414.74 68.99,414.41 70.19,414.1 71.38,413.8 72.57,413.51 73.76,413.23 74.96,412.96 76.15,412.71 77.34,412.46 78.53,412.22 79.72,411.99 80.92,411.76 82.11,411.55 83.3,411.34 84.49,411.13 85.69,410.93 86.88,410.74 88.07,410.55 89.26,410.36 90.45,410.18 91.65,410.01 92.84,409.84 94.03,409.67 95.22,409.51 96.42,409.35 97.61,409.19 98.8,409.03 99.99,408.88 101.18,408.74 102.38,408.59 103.57,408.45 104.76,408.31 105.95,408.17 107.15,408.04 108.34,407.91 109.53,407.78 110.72,407.65 111.91,407.52 113.11,407.4 114.3,407.28 115.49,407.16 116.68,407.04 117.87,406.92 119.07,406.81 120.26,406.69 121.45,406.58 122.64,406.47 123.84,406.36 125.03,406.26 126.22,406.15 127.41,406.04 128.6,405.94 129.8,405.84 130.99,405.74 132.18,405.64 133.37,405.54 134.57,405.44 135.76,405.34 136.95,405.24 138.14,405.15 139.33,405.05 140.53,404.96 141.72,404.87 142.91,404.78 144.1,404.68 145.3,404.59 146.49,404.5 147.68,404.41 148.87,404.33 150.06,404.24 151.26,404.15 152.45,404.06 153.64,403.98 154.83,403.89 156.03,403.81 157.22,403.72 158.41,403.64 159.6,403.55 160.79,403.47 161.99,403.39 163.18,403.31 164.37,403.22 165.56,403.14 166.75,403.06 167.95,402.98 169.14,402.9 170.33,402.82 171.52,402.74 172.72,402.66 173.91,402.58 175.1,402.5 176.29,402.42 177.48,402.35 178.68,402.27 179.87,402.19 181.06,402.11 182.25,402.04 183.45,401.96 184.64,401.88 185.83,401.8 187.02,401.73 188.21,401.65 189.41,401.58 190.6,401.5 191.79,401.42 192.98,401.35 194.18,401.27 195.37,401.2 196.56,401.12 197.75,401.05 198.94,400.97 200.14,400.9 201.33,400.82 202.52,400.75 203.71,400.68 204.91,400.6 206.1,400.53 207.29,400.45 208.48,400.38 209.67,400.31 210.87,400.23 212.06,400.16 213.25,400.09 214.44,400.01 215.64,399.94 216.83,399.87 218.02,399.79 219.21,399.72 220.4,399.65 221.6,399.57 222.79,399.5 223.98,399.43 225.17,399.36 226.36,399.28 227.56,399.21 228.75,399.14 229.35,399.1 229.54,433.93 229.94,435.04 230.34,436 230.74,436.83 231.13,437.55 231.53,438.18 231.93,438.72 232.33,439.19 232.72,439.6 233.12,439.95 233.52,440.26 233.92,440.52 234.31,440.75 234.71,440.95 235.11,441.12 235.51,441.27 235.9,441.4 236.3,441.52 236.7,441.61 237.09,441.7 237.49,441.77 237.89,441.84 238.29,441.89 238.68,441.94 239.08,441.98 239.48,442.02 239.88,442.05 240.27,442.07 240.67,442.1 240.87,429.7" fill="none" stroke="#00ff00" stroke-width="1.9" stroke-linejoin="round" stroke-linecap="round" />
<polyline points="37.6,462.18 38.2,463.96 38.79,465.51 39.39,466.86 39.98,468.05 40.58,469.08 41.18,469.98 41.77,470.76 42.37,471.45 42.96,472.05 43.56,472.57 44.16,473.02 44.75,473.42 45.35,473.77 45.95,474.07 46.54,474.33 47.14,474.56 47.73,474.77 48.33,474.94 48.93,475.09 49.52,475.23 49.92,476.14 49.92,417.93 51.11,419.75 52.3,419.82 53.5,419.39 54.69,418.84 55.88,418.28 57.07,417.76 58.26,417.27 59.46,416.82 60.65,416.4 61.84,416.01 63.03,415.65 64.23,415.31 65.42,414.99 66.61,414.69 67.8,414.4 68.99,414.13 70.19,413.87 71.38,413.63 72.57,413.39 73.76,413.16 74.96,412.94 76.15,412.73 77.34,412.53 78.53,412.34 79.72,412.15 80.92,411.96 82.11,411.78 83.3,411.61 84.49,411.44 85.69,411.27 86.88,411.11 88.07,410.95 89.26,410.8 90.45,410.64 91.65,410.5 92.84,410.35 94.03,410.21 95.22,410.07 96.42,409.93 97.61,409.8 98.8,409.66 99.99,409.53 101.18,409.4 102.38,409.28 103.57,409.15 104.76,409.03 105.95,408.91 107.15,408.79 108.34,408.67 109.53,408.56 110.72,408.44 111.91,408.33 113.11,408.22 114.3,408.11 115.49,408 116.68,407.89 117.87,407.78 119.07,407.68 120.26,407.57 121.45,407.47 122.64,407.36 123.84,407.26 125.03,407.16 126.22,407.06 127.41,406.96 128.6,406.86 129.8,406.77 130.99,406.67 132.18,406.57 133.37,406.48 134.57,406.39 135.76,406.29 136.95,406.2 138.14,406.11 139.33,406.01 140.53,405.92 141.72,405.83 142.91,405.74 144.1,405.65 145.3,405.56 146.49,405.47 147.68,405.39 148.87,405.3 150.06,405.21 151.26,405.12 152.45,405.04 153.64,404.95 154.83,404.86 156.03,404.78 157.22,404.69 158.41,404.61 159.6,404.53 160.79,404.44 161.99,404.36 163.18,404.27 164.37,404.19 165.56,404.11 166.75,404.02 167.95,403.94 169.14,403.86 170.33,403.78 171.52,403.7 172.72,403.61 173.91,403.53 175.1,403.45 176.29,403.37 177.48,403.29 178.68,403.21 179.87,403.13 181.06,403.05 182.25,402.97 183.45,402.89 184.64,402.81 185.83,402.73 187.02,402.65 188.21,402.57 189.41,402.49 190.6,402.41 191.79,402.33 192.98,402.25 194.18,402.18 195.37,402.1 196.56,402.02 197.75,401.94 198.94,401.86 200.14,401.78 201.33,401.7 202.52,401.63 203.71,401.55 204.91,401.47 206.1,401.39 207.29,401.31 208.48,401.24 209.67,401.16 210.87,401.08 212.06,401 213.25,400.93 214.44,400.85 215.64,400.77 216.83,400.69 218.02,400.62 219.21,400.54 220.4,400.46 221.6,400.39 222.79,400.31 223.98,400.23 225.17,400.16 226.36,400.08 227.56,400 228.75,399.92 229.35,399.89 229.54,437.39 229.94,438.91 230.34,440.23 230.74,441.38 231.13,442.37 231.53,443.23 231.93,443.98 232.33,444.63 232.72,445.19 233.12,445.67 233.52,446.09 233.92,446.46 234.31,446.78 234.71,447.05 235.11,447.29 235.51,447.5 235.9,447.67 236.3,447.83 236.7,447.96 237.09,448.08 237.49,448.18 237.89,448.27 238.29,448.34 238.68,448.41 239.08,448.47 239.48,448.52 239.88,448.56 240.27,448.6 240.67,448.63 240.87,436.29" fill="none" stroke="#ff0000" stroke-width="1.9" stroke-linejoin="round" stroke-linecap="round" />
<polyline points="37.6,462.18 38.2,464.24 38.79,466.03 39.39,467.6 39.98,468.97 40.58,470.16 41.18,471.21 41.77,472.11 42.37,472.91 42.96,473.6 43.56,474.2 44.16,474.73 44.75,475.19 45.35,475.59 45.95,475.94 46.54,476.25 47.14,476.51 47.73,476.75 48.33,476.95 48.93,477.13 49.52,477.28 49.92,478.34 49.92,418.71 51.11,420.51 52.3,420.57 53.5,420.11 54.69,419.54 55.88,418.97 57.07,418.43 58.26,417.92 59.46,417.46 60.65,417.02 61.84,416.62 63.03,416.24 64.23,415.89 65.42,415.55 66.61,415.24 67.8,414.94 68.99,414.66 70.19,414.39 71.38,414.13 72.57,413.88 73.76,413.65 74.96,413.42 76.15,413.2 77.34,412.99 78.53,412.78 79.72,412.58 80.92,412.39 82.11,412.21 83.3,412.02 84.49,411.85 85.69,411.67 86.88,411.51 88.07,411.34 89.26,411.18 90.45,411.02 91.65,410.87 92.84,410.72 94.03,410.57 95.22,410.43 96.42,410.28 97.61,410.15 98.8,410.01 99.99,409.87 101.18,409.74 102.38,409.61 103.57,409.48 104.76,409.36 105.95,409.23 107.15,409.11 108.34,408.99 109.53,408.87 110.72,408.75 111.91,408.64 113.11,408.52 114.3,408.41 115.49,408.3 116.68,408.19 117.87,408.08 119.07,407.97 120.26,407.87 121.45,407.76 122.64,407.66 123.84,407.55 125.03,407.45 126.22,407.35 127.41,407.25 128.6,407.15 129.8,407.05 130.99,406.95 132.18,406.86 133.37,406.76 134.57,406.67 135.76,406.57 136.95,406.48 138.14,406.39 139.33,406.29 140.53,406.2 141.72,406.11 142.91,406.02 144.1,405.93 145.3,405.84 146.49,405.75 147.68,405.66 148.87,405.57 150.06,405.49 151.26,405.4 152.45,405.31 153.64,405.23 154.83,405.14 156.03,405.06 157.22,404.97 158.41,404.89 159.6,404.8 160.79,404.72 161.99,404.63 163.18,404.55 164.37,404.47 165.56,404.38 166.75,404.3 167.95,404.22 169.14,404.14 170.33,404.06 171.52,403.98 172.72,403.89 173.91,403.81 175.1,403.73 176.29,403.65 177.48,403.57 178.68,403.49 179.87,403.41 181.06,403.33 182.25,403.25 183.45,403.17 184.64,403.09 185.83,403.01 187.02,402.94 188.21,402.86 189.41,402.78 190.6,402.7 191.79,402.62 192.98,402.54 194.18,402.47 195.37,402.39 196.56,402.31 197.75,402.23 198.94,402.15 200.14,402.08 201.33,402 202.52,401.92 203.71,401.84 204.91,401.77 206.1,401.69 207.29,401.61 208.48,401.54 209.67,401.46 210.87,401.38 212.06,401.31 213.25,401.23 214.44,401.15 215.64,401.08 216.83,401 218.02,400.92 219.21,400.85 220.4,400.77 221.6,400.69 222.79,400.62 223.98,400.54 225.17,400.47 226.36,400.39 227.56,400.31 228.75,400.24 229.35,400.2 229.54,432.52 229.94,433.92 230.34,435.13 230.74,436.19 231.13,437.1 231.53,437.89 231.93,438.57 232.33,439.17 232.72,439.68 233.12,440.13 233.52,440.51 233.92,440.85 234.31,441.14 234.71,441.39 235.11,441.61 235.51,441.8 235.9,441.96 236.3,442.11 236.7,442.23 237.09,442.34 237.49,442.43 237.89,442.51 238.29,442.58 238.68,442.64 239.08,442.69 239.48,442.74 239.88,442.78 240.27,442.81 240.67,442.84 240.87,430.48" fill="none" stroke="#0000ff" stroke-width="1.9" stroke-linejoin="round" stroke-linecap="round" />
<polyline points="37.6,462.18 38.2,463.64 38.79,464.91 39.39,466.02 39.98,466.99 40.58,467.84 41.18,468.58 41.77,469.22 42.37,469.78 42.96,470.27 43.56,470.7 44.16,471.07 44.75,471.4 45.35,471.68 45.95,471.93 46.54,472.15 47.14,472.34 47.73,472.5 48.33,472.65 48.93,472.77 49.52,472.88 49.92,473.63 49.92,414.32 51.11,413.92 52.3,413.54 53.5,413.16 54.69,412.8 55.88,412.44 57.07,412.1 58.26,411.76 59.46,411.44 60.65,411.12 61.84,410.81 63.03,410.52 64.23,410.22 65.42,409.94 66.61,409.67 67.8,409.4 68.99,409.14 70.19,408.88 71.38,408.63 72.57,408.39 73.76,408.16 74.96,407.93 76.15,407.7 77.34,407.49 78.53,407.27 79.72,407.06 80.92,406.86 82.11,406.66 83.3,406.47 84.49,406.28 85.69,406.09 86.88,405.91 88.07,405.73 89.26,405.56 90.45,405.39 91.65,405.22 92.84,405.06 94.03,404.9 95.22,404.74 96.42,404.59 97.61,404.44 98.8,404.29 99.99,404.14 101.18,404 102.38,403.86 103.57,403.72 104.76,403.59 105.95,403.45 107.15,403.32 108.34,403.19 109.53,403.07 110.72,402.94 111.91,402.82 113.11,402.7 114.3,402.58 115.49,402.46 116.68,402.34 117.87,402.23 119.07,402.12 120.26,402 121.45,401.89 122.64,401.79 123.84,401.68 125.03,401.57 126.22,401.47 127.41,401.36 128.6,401.26 129.8,401.16 130.99,401.06 132.18,400.96 133.37,400.86 134.57,400.76 135.76,400.67 136.95,400.57 138.14,400.48 139.33,400.38 140.53,400.29 141.72,400.2 142.91,400.11 144.1,400.01 145.3,399.92 146.49,399.83 147.68,399.75 148.87,399.66 150.06,399.57 151.26,399.48 152.45,399.39 153.64,399.31 154.83,399.22 156.03,399.14 157.22,399.05 158.41,398.97 159.6,398.88 160.79,398.8 161.99,398.72 163.18,398.64 164.37,398.55 165.56,398.47 166.75,398.39 167.95,398.31 169.14,398.23 170.33,398.15 171.52,398.07 172.72,397.99 173.91,397.91 175.1,397.83 176.29,397.75 177.48,397.67 178.68,397.59 179.87,397.51 181.06,397.44 182.25,397.36 183.45,397.28 184.64,397.2 185.83,397.13 187.02,397.05 188.21,396.97 189.41,396.89 190.6,396.82 191.79,396.74 192.98,396.67 194.18,396.59 195.37,396.51 196.56,396.44 197.75,396.36 198.94,396.29 200.14,396.21 201.33,396.14 202.52,396.06 203.71,395.99 204.91,395.91 206.1,395.84 207.29,395.76 208.48,395.69 209.67,395.61 210.87,395.54 212.06,395.46 213.25,395.39 214.44,395.32 215.64,395.24 216.83,395.17 218.02,395.09 219.21,395.02 220.4,394.95 221.6,394.87 222.79,394.8 223.98,394.73 225.17,394.65 226.36,394.58 227.56,394.5 228.75,394.43 229.35,394.39 229.54,429.07 229.94,430.26 230.34,431.29 230.74,432.19 231.13,432.96 231.53,433.64 231.93,434.22 232.33,434.72 232.72,435.16 233.12,435.54 233.52,435.87 233.92,436.16 234.31,436.4 234.71,436.62 235.11,436.8 235.51,436.96 235.9,437.1 236.3,437.22 236.7,437.33 237.09,437.42 237.49,437.5 237.89,437.57 238.29,437.63 238.68,437.68 239.08,437.72 239.48,437.76 239.88,437.8 240.27,437.82 240.67,437.85 240.87,425.46" fill="none" stroke="#ff00ff" stroke-width="1.9" stroke-linejoin="round" stroke-linecap="round" />
<polyline points="37.6,462.18 38.2,464.04 38.79,465.66 39.39,467.07 39.98,468.31 40.58,469.39 41.18,470.33 41.77,471.15 42.37,471.87 42.96,472.49 43.56,473.04 44.16,473.51 44.75,473.93 45.35,474.29 45.95,474.6 46.54,474.88 47.14,475.12 47.73,475.33 48.33,475.51 48.93,475.67 49.52,475.81 49.92,476.77 49.92,412.44 51.11,411.41 52.3,410.41 53.5,409.45 54.69,408.52 55.88,407.62 57.07,406.74 58.26,405.9 59.46,405.08 60.65,404.28 61.84,403.52 63.03,402.77 64.23,402.05 65.42,401.36 66.61,400.68 67.8,400.02 68.99,399.39 70.19,398.77 71.38,398.18 72.57,397.6 73.76,397.03 74.96,396.49 76.15,395.96 77.34,395.45 78.53,394.95 79.72,394.47 80.92,394 82.11,393.54 83.3,393.1 84.49,392.67 85.69,392.25 86.88,391.84 88.07,391.44 89.26,391.06 90.45,390.68 91.65,390.32 92.84,389.97 94.03,389.62 95.22,389.28 96.42,388.96 97.61,388.64 98.8,388.33 99.99,388.02 101.18,387.73 102.38,387.44 103.57,387.16 104.76,386.88 105.95,386.62 107.15,386.35 108.34,386.1 109.53,385.85 110.72,385.6 111.91,385.36 113.11,385.13 114.3,384.9 115.49,384.68 116.68,384.46 117.87,384.24 119.07,384.03 120.26,383.83 121.45,383.63 122.64,383.43 123.84,383.23 125.03,383.04 126.22,382.86 127.41,382.67 128.6,382.49 129.8,382.32 130.99,382.14 132.18,381.97 133.37,381.8 134.57,381.64 135.76,381.47 136.95,381.31 138.14,381.15 139.33,381 140.53,380.85 141.72,380.69 142.91,380.54 144.1,380.4 145.3,380.25 146.49,380.11 147.68,379.97 148.87,379.83 150.06,379.69 151.26,379.55 152.45,379.42 153.64,379.28 154.83,379.15 156.03,379.02 157.22,378.89 158.41,378.77 159.6,378.64 160.79,378.51 161.99,378.39 163.18,378.27 164.37,378.15 165.56,378.02 166.75,377.9 167.95,377.79 169.14,377.67 170.33,377.55 171.52,377.44 172.72,377.32 173.91,377.21 175.1,377.09 176.29,376.98 177.48,376.87 178.68,376.76 179.87,376.64 181.06,376.53 182.25,376.43 183.45,376.32 184.64,376.21 185.83,376.1 187.02,375.99 188.21,375.89 189.41,375.78 190.6,375.68 191.79,375.57 192.98,375.47 194.18,375.36 195.37,375.26 196.56,375.15 197.75,375.05 198.94,374.95 200.14,374.85 201.33,374.75 202.52,374.64 203.71,374.54 204.91,374.44 206.1,374.34 207.29,374.24 208.48,374.14 209.67,374.04 210.87,373.94 212.06,373.84 213.25,373.74 214.44,373.65 215.64,373.55 216.83,373.45 218.02,373.35 219.21,373.25 220.4,373.16 221.6,373.06 222.79,372.96 223.98,372.86 225.17,372.77 226.36,372.67 227.56,372.57 228.75,372.48 229.35,372.43 229.54,417.77 229.94,418.42 230.34,418.98 230.74,419.47 231.13,419.89 231.53,420.26 231.93,420.57 232.33,420.85 232.72,421.09 233.12,421.29 233.52,421.47 233.92,421.63 234.31,421.76 234.71,421.88 235.11,421.98 235.51,422.07 235.9,422.14 236.3,422.21 236.7,422.27 237.09,422.31 237.49,422.36 237.89,422.39 238.29,422.43 238.68,422.46 239.08,422.48 239.48,422.5 239.88,422.52 240.27,422.53 240.67,422.55 240.87,410.08" fill="none" stroke="#000080" stroke-width="1.6" stroke-linejoin="round" stroke-linecap="round" stroke-dasharray="2.4,1.8"/>
<polyline points="37.6,462.18 38.2,463.54 38.79,464.72 39.39,465.76 39.98,466.66 40.58,467.45 41.18,468.14 41.77,468.74 42.37,469.26 42.96,469.72 43.56,470.12 44.16,470.46 44.75,470.77 45.35,471.03 45.95,471.26 46.54,471.47 47.14,471.64 47.73,471.79 48.33,471.93 48.93,472.05 49.52,472.15 49.92,472.85 49.92,403.81 51.11,402.73 52.3,401.69 53.5,400.69 54.69,399.71 55.88,398.77 57.07,397.85 58.26,396.96 59.46,396.1 60.65,395.27 61.84,394.46 63.03,393.67 64.23,392.91 65.42,392.18 66.61,391.46 67.8,390.76 68.99,390.09 70.19,389.44 71.38,388.8 72.57,388.18 73.76,387.58 74.96,387 76.15,386.43 77.34,385.88 78.53,385.35 79.72,384.83 80.92,384.32 82.11,383.83 83.3,383.35 84.49,382.88 85.69,382.43 86.88,381.99 88.07,381.56 89.26,381.14 90.45,380.73 91.65,380.33 92.84,379.94 94.03,379.56 95.22,379.19 96.42,378.83 97.61,378.47 98.8,378.13 99.99,377.79 101.18,377.46 102.38,377.14 103.57,376.82 104.76,376.52 105.95,376.21 107.15,375.92 108.34,375.63 109.53,375.35 110.72,375.07 111.91,374.8 113.11,374.53 114.3,374.27 115.49,374.01 116.68,373.76 117.87,373.51 119.07,373.27 120.26,373.03 121.45,372.8 122.64,372.57 123.84,372.34 125.03,372.12 126.22,371.9 127.41,371.68 128.6,371.47 129.8,371.26 130.99,371.06 132.18,370.85 133.37,370.65 134.57,370.46 135.76,370.26 136.95,370.07 138.14,369.88 139.33,369.69 140.53,369.51 141.72,369.32 142.91,369.14 144.1,368.96 145.3,368.79 146.49,368.61 147.68,368.44 148.87,368.27 150.06,368.1 151.26,367.93 152.45,367.76 153.64,367.6 154.83,367.44 156.03,367.27 157.22,367.11 158.41,366.96 159.6,366.8 160.79,366.64 161.99,366.49 163.18,366.33 164.37,366.18 165.56,366.03 166.75,365.88 167.95,365.73 169.14,365.58 170.33,365.43 171.52,365.28 172.72,365.14 173.91,364.99 175.1,364.85 176.29,364.7 177.48,364.56 178.68,364.42 179.87,364.27 181.06,364.13 182.25,363.99 183.45,363.85 184.64,363.71 185.83,363.58 187.02,363.44 188.21,363.3 189.41,363.16 190.6,363.03 191.79,362.89 192.98,362.76 194.18,362.62 195.37,362.49 196.56,362.35 197.75,362.22 198.94,362.08 200.14,361.95 201.33,361.82 202.52,361.69 203.71,361.55 204.91,361.42 206.1,361.29 207.29,361.16 208.48,361.03 209.67,360.9 210.87,360.77 212.06,360.64 213.25,360.51 214.44,360.38 215.64,360.25 216.83,360.12 218.02,359.99 219.21,359.86 220.4,359.74 221.6,359.61 222.79,359.48 223.98,359.35 225.17,359.22 226.36,359.1 227.56,358.97 228.75,358.84 229.35,358.78 229.54,392.04 229.94,394.51 230.34,396.64 230.74,398.49 231.13,400.1 231.53,401.49 231.93,402.7 232.33,403.74 232.72,404.65 233.12,405.44 233.52,406.12 233.92,406.71 234.31,407.22 234.71,407.67 235.11,408.05 235.51,408.38 235.9,408.67 236.3,408.92 236.7,409.14 237.09,409.33 237.49,409.49 237.89,409.63 238.29,409.76 238.68,409.86 239.08,409.96 239.48,410.04 239.88,410.1 240.27,410.16 240.67,410.22" fill="none" stroke="#800080" stroke-width="2.5" stroke-linejoin="round" stroke-linecap="round" />
<line x1="241.4" y1="411.56" x2="241.4" y2="323.8" stroke="#8e058e" stroke-width="1.8"/>
<polyline points="37.6,462.65 38.2,464.65 38.79,466.39 39.39,467.91 39.98,469.24 40.58,470.4 41.18,471.41 41.77,472.3 42.37,473.07 42.96,473.74 43.56,474.32 44.16,474.84 44.75,475.28 45.35,475.67 45.95,476.01 46.54,476.31 47.14,476.57 47.73,476.79 48.33,476.99 48.93,477.16 49.52,477.31 49.92,479.12 49.92,444.29 50.91,445.03 51.91,445.77 52.9,446.51 53.89,447.02 54.89,447.19 55.88,447.36 56.87,447.53 57.87,447.7 58.86,447.86 59.85,448.03 60.85,448.2 61.84,448.37 62.83,448.54 63.83,448.7 64.82,448.87 65.82,449.04 66.81,449.21 67.8,449.23 68.8,449.04 69.79,448.84 70.78,448.64 71.78,448.45 72.77,448.25 73.76,448.05 74.76,447.86 75.75,447.66 76.74,447.47 77.74,447.27 78.73,447.07 79.72,446.88 80.72,446.68 81.71,446.49 82.7,446.29 83.7,446.09 84.69,445.9 85.69,445.7 86.68,445.51 87.67,445.27 88.67,444.99 89.66,444.71 90.65,444.43 91.65,444.15 92.64,443.86 93.63,443.58 94.63,443.3 95.62,443.02 96.61,442.74 97.61,442.45 98.6,442.17 99.59,441.89 100.59,441.61 101.58,441.32 102.57,441.04 103.57,440.76 104.56,440.48 105.56,440.2 106.55,439.91 107.54,439.63 108.54,439.35 109.53,439.07 110.52,438.88 111.52,438.75 112.51,438.62 113.5,438.5 114.5,438.37 115.49,438.24 116.48,438.12 117.48,437.99 118.47,437.86 119.46,437.74 120.46,437.61 121.45,437.48 122.44,437.36 123.44,437.23 124.43,437.1 125.43,436.97 126.42,436.85 127.41,436.72 128.41,436.59 129.4,436.47 130.39,436.34 131.39,436.21 132.38,436.09 133.37,435.96 134.37,435.83 135.36,435.71 136.35,435.58 137.35,435.48 138.34,435.41 139.33,435.35 140.33,435.29 141.32,435.23 142.31,435.16 143.31,435.1 144.3,435.04 145.3,434.98 146.29,434.91 147.28,434.85 148.28,434.79 149.27,434.72 150.26,434.66 151.26,434.6 152.25,434.54 153.24,434.47 154.24,434.41 155.23,434.35 156.22,434.29 157.22,434.22 158.21,434.16 159.2,434.1 160.2,434.03 161.19,433.97 162.18,433.91 163.18,433.85 164.17,433.78 165.17,433.72 166.16,433.66 167.15,433.62 168.15,433.61 169.14,433.6 170.13,433.59 171.13,433.58 172.12,433.57 173.11,433.56 174.11,433.55 175.1,433.54 176.09,433.53 177.09,433.52 178.08,433.51 179.07,433.5 180.07,433.49 181.06,433.48 182.05,433.48 183.05,433.47 184.04,433.46 185.04,433.45 186.03,433.44 187.02,433.43 188.02,433.42 189.01,433.41 190,433.4 191,433.39 191.99,433.38 192.98,433.37 193.98,433.36 194.97,433.35 195.96,433.34 196.96,433.33 197.95,433.32 198.94,433.32 199.94,433.31 200.93,433.32 201.92,433.33 202.92,433.34 203.91,433.35 204.91,433.36 205.9,433.37 206.89,433.38 207.89,433.39 208.88,433.4 209.87,433.41 210.87,433.42 211.86,433.43 212.85,433.44 213.85,433.45 214.84,433.47 215.83,433.48 216.83,433.49 217.82,433.5 218.81,433.51 219.81,433.52 220.8,433.53 221.79,433.54 222.79,433.55 223.78,433.56 224.78,433.57 225.77,433.58 226.76,433.59 227.76,433.6 228.75,433.61" fill="none" stroke="#111" stroke-width="1.6" stroke-linejoin="round" stroke-linecap="round" stroke-dasharray="2.2,1.9"/>
<polyline points="229.35,433.62 229.54,445.39 229.94,465 230.34,466.93 230.74,468.56 231.13,469.94 231.53,471.11 231.93,472.1 232.33,472.93 232.72,473.64 233.12,474.24 233.52,474.75 233.92,475.18 234.31,475.55 234.71,475.85 235.11,476.11 235.51,476.33 235.9,476.52 236.3,476.68 236.7,476.81 237.09,476.93 237.49,477.02 237.89,477.1 238.29,477.17 238.68,477.23 239.08,477.28 239.48,477.32 239.88,477.36 240.27,477.39 240.67,477.41 240.87,446.17" fill="none" stroke="#111" stroke-width="1.8" stroke-linejoin="round" stroke-linecap="round" stroke-dasharray="3.5,2.5"/>
<line x1="49.7" y1="373" x2="49.7" y2="394.6" stroke="#222" stroke-width="0.9"/>
<polygon points="48.1,393.1 51.3,393.1 49.7,397.6" fill="#222"/>
<line x1="228.5" y1="327.4" x2="228.5" y2="349" stroke="#222" stroke-width="0.9"/>
<polygon points="226.9,347.5 230.1,347.5 228.5,352" fill="#222"/>
<line x1="300.4" y1="370.9" x2="300.4" y2="392.5" stroke="#222" stroke-width="0.9"/>
<polygon points="298.8,391 302,391 300.4,395.5" fill="#222"/>
<line x1="427" y1="379" x2="427" y2="400.5" stroke="#222" stroke-width="0.9"/>
<polygon points="425.4,399 428.6,399 427,403.5" fill="#222"/>
<line x1="103" y1="355.5" x2="99.7" y2="376.5" stroke="#333" stroke-width="0.7" stroke-dasharray="1,0.8"/>
<polygon points="99.7,376.5 101.8,372.78 98.84,372.32" fill="#222"/>
<line x1="148.5" y1="352.5" x2="143.5" y2="376.5" stroke="#333" stroke-width="0.7" stroke-dasharray="1,0.8"/>
<polygon points="143.5,376.5 145.78,372.89 142.85,372.28" fill="#222"/>
<line x1="186.1" y1="352.5" x2="185.2" y2="389.3" stroke="#333" stroke-width="0.7" stroke-dasharray="1,0.8"/>
<polygon points="185.2,389.3 186.8,385.34 183.8,385.26" fill="#222"/>
<line x1="247.7" y1="330.6" x2="247.7" y2="344" stroke="#333" stroke-width="1.1" stroke-dasharray="1.1,1.6"/>
<polyline points="244.5,334.6 247.7,328.6 250.9,334.6" fill="none" stroke="#222" stroke-width="1.3" stroke-linejoin="miter"/>
<line x1="299.1" y1="477.3" x2="299.1" y2="492" stroke="#333" stroke-width="1.1" stroke-dasharray="1.1,1.6"/>
<polyline points="295.9,481.3 299.1,475.3 302.3,481.3" fill="none" stroke="#222" stroke-width="1.3" stroke-linejoin="miter"/>
<g font-family="'Liberation Sans', Arial, sans-serif" font-size="9" fill="#222" stroke="#222" stroke-width="0.12">
<text x="97.6" y="352" textLength="26.7" lengthAdjust="spacingAndGlyphs">150 nM</text>
<text x="140.6" y="348.2" textLength="26.9" lengthAdjust="spacingAndGlyphs">100 nM</text>
<text x="182.1" y="347.4" textLength="22.5" lengthAdjust="spacingAndGlyphs">10 nM</text>
</g>
<g font-family="'Liberation Sans', Arial, sans-serif" font-size="10" fill="#222">
<text x="41.8" y="492.6">1</text>
<text x="137.4" y="423.8">2</text>
<text x="232.4" y="491.2">3</text>
<text x="307.6" y="399.2">4</text>
<text x="455.2" y="494.8">5</text>
</g>
<polygon points="326.5,414.6 322.6,422.4 330.4,422.4" fill="#111"/>
<text x="327.9" y="432" font-family="'Liberation Sans', Arial, sans-serif" font-size="8.8" text-anchor="middle" fill="#222" stroke="#222" stroke-width="0.15" textLength="23.4" lengthAdjust="spacingAndGlyphs">+0.5 V</text>
<polygon points="388,335.5 395,335.5 391.5,342.8" fill="#111"/>
<text x="392.5" y="332.8" font-family="'Liberation Sans', Arial, sans-serif" font-size="8.8" text-anchor="middle" fill="#222" stroke="#222" stroke-width="0.15" textLength="22" lengthAdjust="spacingAndGlyphs">-0.3 V</text>
<polyline points="301.03,408.78 326.47,409.57 327,409.14 328.06,408.43 329.12,407.9 330.18,407.48 331.24,407.14 332.3,406.85 333.36,406.61 334.42,406.39 335.48,406.18 336.54,405.99 337.6,405.81 338.66,405.63 339.72,405.46 340.78,405.29 341.84,405.12 342.9,404.95 343.96,404.78 345.02,404.62 346.08,404.45 347.14,404.28 348.2,404.12 349.26,403.95 350.32,403.79 351.38,403.62 352.44,403.45 353.5,403.29 354.56,403.12 355.62,402.95 356.68,402.79 357.74,402.62 358.8,402.46 359.86,402.29 360.92,402.12 361.98,401.96 363.04,401.79 364.1,401.62 365.16,401.46 366.22,401.29 367.28,401.13 368.34,400.96 369.4,400.79 370.46,400.63 371.52,400.46 372.58,400.3 373.64,400.13 374.7,399.96 375.76,399.8 376.82,399.63 377.88,399.46 378.94,399.3 380,399.13 381.06,398.97 382.12,398.8 383.18,398.63 384.24,398.47 385.3,398.3 386.36,398.14 387.42,397.97 388.48,397.8 389.54,397.64 390.6,397.47 391.66,397.3 392.19,397.22 393.25,419.29 394.84,418.54 396.96,417.63 399.08,417.16 401.2,416.92 403.32,416.79 405.44,416.73 407.56,416.7 409.68,416.68 411.8,416.67 413.92,416.67 416.04,416.66 418.16,416.66 420.28,416.66 422.4,416.66 424.52,416.66 426.64,416.66 427.7,416.66 428.55,467.36 430.88,467.53 435.12,467.8 439.36,468 443.6,468.16 447.84,468.28 452.08,468.37 456.32,468.44 460.56,468.5 464.8,468.54 469.04,468.57 473.28,468.6 477.52,468.62 481.76,468.63 486,468.64 490.24,468.65 491.3,468.68" fill="none" stroke="#000080" stroke-width="1.7" stroke-linejoin="round" stroke-linecap="round" stroke-dasharray="5,4"/>
<polyline points="301.03,408.78 326.47,409.57 327,408.98 328.06,408.05 329.12,407.37 330.18,406.85 331.24,406.45 332.3,406.12 333.36,405.85 334.42,405.61 335.48,405.39 336.54,405.19 337.6,405 338.66,404.81 339.72,404.63 340.78,404.46 341.84,404.28 342.9,404.11 343.96,403.94 345.02,403.77 346.08,403.6 347.14,403.42 348.2,403.25 349.26,403.08 350.32,402.91 351.38,402.74 352.44,402.57 353.5,402.4 354.56,402.23 355.62,402.06 356.68,401.89 357.74,401.72 358.8,401.55 359.86,401.38 360.92,401.2 361.98,401.03 363.04,400.86 364.1,400.69 365.16,400.52 366.22,400.35 367.28,400.18 368.34,400.01 369.4,399.84 370.46,399.67 371.52,399.5 372.58,399.33 373.64,399.16 374.7,398.99 375.76,398.82 376.82,398.65 377.88,398.47 378.94,398.3 380,398.13 381.06,397.96 382.12,397.79 383.18,397.62 384.24,397.45 385.3,397.28 386.36,397.11 387.42,396.94 388.48,396.77 389.54,396.6 390.6,396.43 391.66,396.26 392.19,396.17 393.25,419.03 394.84,418.28 396.96,417.37 399.08,416.9 401.2,416.65 403.32,416.53 405.44,416.47 407.56,416.43 409.68,416.42 411.8,416.41 413.92,416.4 416.04,416.4 418.16,416.4 420.28,416.4 422.4,416.4 424.52,416.4 426.64,416.4 427.7,416.4 428.55,467.1 430.88,467.26 435.12,467.53 439.36,467.74 443.6,467.9 447.84,468.02 452.08,468.11 456.32,468.18 460.56,468.24 464.8,468.28 469.04,468.31 473.28,468.33 477.52,468.35 481.76,468.37 486,468.38 490.24,468.39 491.3,468.41" fill="none" stroke="#808000" stroke-width="1.7" stroke-linejoin="round" stroke-linecap="round" stroke-dasharray="5,2.2,1.5,2.2"/>
<polyline points="301.03,408.78 326.47,409.57 327,408.87 328.06,407.79 329.12,407.01 330.18,406.43 331.24,405.99 332.3,405.63 333.36,405.34 334.42,405.08 335.48,404.85 336.54,404.64 337.6,404.45 338.66,404.26 339.72,404.07 340.78,403.89 341.84,403.71 342.9,403.53 343.96,403.35 345.02,403.18 346.08,403 347.14,402.83 348.2,402.65 349.26,402.48 350.32,402.3 351.38,402.13 352.44,401.95 353.5,401.78 354.56,401.6 355.62,401.43 356.68,401.25 357.74,401.07 358.8,400.9 359.86,400.72 360.92,400.55 361.98,400.37 363.04,400.2 364.1,400.02 365.16,399.85 366.22,399.67 367.28,399.5 368.34,399.32 369.4,399.15 370.46,398.97 371.52,398.8 372.58,398.62 373.64,398.45 374.7,398.27 375.76,398.1 376.82,397.92 377.88,397.75 378.94,397.57 380,397.4 381.06,397.22 382.12,397.05 383.18,396.87 384.24,396.7 385.3,396.52 386.36,396.35 387.42,396.17 388.48,396 389.54,395.82 390.6,395.65 391.66,395.47 392.19,395.38 393.25,419.29 394.84,418.54 396.96,417.63 399.08,417.16 401.2,416.92 403.32,416.79 405.44,416.73 407.56,416.7 409.68,416.68 411.8,416.67 413.92,416.67 416.04,416.66 418.16,416.66 420.28,416.66 422.4,416.66 424.52,416.66 426.64,416.66 427.7,416.66 428.55,468.15 430.88,468.31 435.12,468.58 439.36,468.79 443.6,468.95 447.84,469.07 452.08,469.16 456.32,469.23 460.56,469.29 464.8,469.33 469.04,469.36 473.28,469.38 477.52,469.4 481.76,469.42 486,469.43 490.24,469.44 491.3,469.46" fill="none" stroke="#ffff00" stroke-width="1.7" stroke-linejoin="round" stroke-linecap="round" stroke-dasharray="1,1.1"/>
<polyline points="301.03,408.78 326.47,409.57 327,408.29 328.06,406.37 329.12,405.06 330.18,404.13 331.24,403.46 332.3,402.96 333.36,402.57 334.42,402.25 335.48,401.98 336.54,401.74 337.6,401.52 338.66,401.31 339.72,401.11 340.78,400.92 341.84,400.73 342.9,400.54 343.96,400.35 345.02,400.16 346.08,399.98 347.14,399.79 348.2,399.61 349.26,399.43 350.32,399.24 351.38,399.06 352.44,398.87 353.5,398.69 354.56,398.5 355.62,398.32 356.68,398.14 357.74,397.95 358.8,397.77 359.86,397.58 360.92,397.4 361.98,397.22 363.04,397.03 364.1,396.85 365.16,396.66 366.22,396.48 367.28,396.29 368.34,396.11 369.4,395.93 370.46,395.74 371.52,395.56 372.58,395.37 373.64,395.19 374.7,395.01 375.76,394.82 376.82,394.64 377.88,394.45 378.94,394.27 380,394.09 381.06,393.9 382.12,393.72 383.18,393.53 384.24,393.35 385.3,393.16 386.36,392.98 387.42,392.8 388.48,392.61 389.54,392.43 390.6,392.24 391.66,392.06 392.19,391.97 393.25,419.29 394.84,418.54 396.96,417.63 399.08,417.16 401.2,416.92 403.32,416.79 405.44,416.73 407.56,416.7 409.68,416.68 411.8,416.67 413.92,416.67 416.04,416.66 418.16,416.66 420.28,416.66 422.4,416.66 424.52,416.66 426.64,416.66 427.7,416.66 428.55,468.41 430.88,468.58 435.12,468.85 439.36,469.05 443.6,469.21 447.84,469.33 452.08,469.42 456.32,469.49 460.56,469.55 464.8,469.59 469.04,469.62 473.28,469.65 477.52,469.67 481.76,469.68 486,469.69 490.24,469.7 491.3,469.73" fill="none" stroke="#ff00ff" stroke-width="1.7" stroke-linejoin="round" stroke-linecap="round" stroke-dasharray="1.3,2.1"/>
<polyline points="301.03,408.78 326.47,409.57 327,407.78 328.06,405.12 329.12,403.3 330.18,402.04 331.24,401.14 332.3,400.48 333.36,399.97 334.42,399.56 335.48,399.21 336.54,398.91 337.6,398.63 338.66,398.38 339.72,398.13 340.78,397.89 341.84,397.66 342.9,397.43 343.96,397.2 345.02,396.97 346.08,396.75 347.14,396.52 348.2,396.3 349.26,396.07 350.32,395.85 351.38,395.62 352.44,395.4 353.5,395.17 354.56,394.95 355.62,394.72 356.68,394.5 357.74,394.27 358.8,394.05 359.86,393.82 360.92,393.6 361.98,393.38 363.04,393.15 364.1,392.93 365.16,392.7 366.22,392.48 367.28,392.25 368.34,392.03 369.4,391.8 370.46,391.58 371.52,391.35 372.58,391.13 373.64,390.91 374.7,390.68 375.76,390.46 376.82,390.23 377.88,390.01 378.94,389.78 380,389.56 381.06,389.33 382.12,389.11 383.18,388.89 384.24,388.66 385.3,388.44 386.36,388.21 387.42,387.99 388.48,387.76 389.54,387.54 390.6,387.31 391.66,387.09 392.19,386.98 393.25,418.76 394.84,418.02 396.96,417.1 399.08,416.63 401.2,416.39 403.32,416.27 405.44,416.2 407.56,416.17 409.68,416.15 411.8,416.15 413.92,416.14 416.04,416.14 418.16,416.14 420.28,416.14 422.4,416.14 424.52,416.14 426.64,416.14 427.7,416.14 428.55,467.89 430.88,468.05 435.12,468.32 439.36,468.53 443.6,468.69 447.84,468.81 452.08,468.9 456.32,468.97 460.56,469.02 464.8,469.07 469.04,469.1 473.28,469.12 477.52,469.14 481.76,469.15 486,469.17 490.24,469.17 491.3,469.2" fill="none" stroke="#00ffff" stroke-width="1.8" stroke-linejoin="round" stroke-linecap="round" stroke-dasharray="5,2.4,1.5,2.4,1.5,2.4"/>
<polyline points="301.03,408.78 326.47,409.57 327,406.98 328.06,403.21 329.12,400.74 330.18,399.11 331.24,398.01 332.3,397.26 333.36,396.72 334.42,396.33 335.48,396.03 336.54,395.78 337.6,395.58 338.66,395.4 339.72,395.23 340.78,395.07 341.84,394.92 342.9,394.78 343.96,394.63 345.02,394.49 346.08,394.35 347.14,394.21 348.2,394.07 349.26,393.93 350.32,393.79 351.38,393.65 352.44,393.51 353.5,393.37 354.56,393.23 355.62,393.09 356.68,392.95 357.74,392.81 358.8,392.68 359.86,392.54 360.92,392.4 361.98,392.26 363.04,392.12 364.1,391.98 365.16,391.84 366.22,391.7 367.28,391.56 368.34,391.42 369.4,391.28 370.46,391.14 371.52,391 372.58,390.87 373.64,390.73 374.7,390.59 375.76,390.45 376.82,390.31 377.88,390.17 378.94,390.03 380,389.89 381.06,389.75 382.12,389.61 383.18,389.47 384.24,389.33 385.3,389.19 386.36,382.25 391.66,388.82 392.19,388.29 393.25,419.03 394.84,418.28 396.96,417.37 399.08,416.9 401.2,416.65 403.32,416.53 405.44,416.47 407.56,416.43 409.68,416.42 411.8,416.41 413.92,416.4 416.04,416.4 418.16,416.4 420.28,416.4 422.4,416.4 424.52,416.4 426.64,416.4 427.7,416.4 428.55,467.36 430.88,467.53 435.12,467.8 439.36,468 443.6,468.16 447.84,468.28 452.08,468.37 456.32,468.44 460.56,468.5 464.8,468.54 469.04,468.57 473.28,468.6 477.52,468.62 481.76,468.63 486,468.64 490.24,468.65 491.3,468.68" fill="none" stroke="#0000ff" stroke-width="1.8" stroke-linejoin="round" stroke-linecap="round" stroke-dasharray="7,3,1.6,3"/>
<polyline points="301.03,408.78 326.47,409.57 327,406.79 328.06,402.6 329.12,399.7 330.18,397.65 331.24,396.15 332.3,395.02 333.36,394.14 334.42,393.41 335.48,392.78 336.54,392.22 337.6,391.7 338.66,391.21 339.72,390.74 340.78,390.28 341.84,389.83 342.9,389.39 343.96,388.94 345.02,388.5 346.08,388.07 347.14,387.63 348.2,387.19 349.26,386.76 350.32,386.32 351.38,385.88 352.44,385.45 353.5,385.01 354.56,384.58 355.62,384.14 356.68,383.71 357.74,383.27 358.8,382.83 359.86,382.4 360.92,381.96 361.98,381.53 363.04,381.09 364.1,380.66 365.16,380.22 366.22,379.78 367.28,379.35 368.34,378.91 369.4,378.48 370.46,378.04 371.52,377.61 372.58,377.17 373.64,376.74 374.7,376.3 375.76,375.86 376.82,375.43 377.88,374.99 378.94,374.56 380,374.12 381.06,373.69 382.12,373.25 383.18,372.82 384.24,372.38 385.3,371.94 386.36,371.51 387.42,371.07 388.48,370.64 389.54,370.2 390.6,369.77 391.66,369.33 392.19,369.11 393.25,419.29 394.84,418.54 396.96,417.63 399.08,417.16 401.2,416.92 403.32,416.79 405.44,416.73 407.56,416.7 409.68,416.68 411.8,416.67 413.92,416.67 416.04,416.66 418.16,416.66 420.28,416.66 422.4,416.66 424.52,416.66 426.64,416.66 427.7,416.66 428.55,468.15 430.88,468.31 435.12,468.58 439.36,468.79 443.6,468.95 447.84,469.07 452.08,469.16 456.32,469.23 460.56,469.29 464.8,469.33 469.04,469.36 473.28,469.38 477.52,469.4 481.76,469.42 486,469.43 490.24,469.44 491.3,469.46" fill="none" stroke="#00ff00" stroke-width="1.8" stroke-linejoin="round" stroke-linecap="round" stroke-dasharray="1.4,5.6"/>
<polyline points="301.03,408.78 326.47,409.57 327,404.93 328.06,398.1 329.12,393.58 330.18,390.53 331.24,388.45 332.3,386.97 333.36,385.9 334.42,385.08 335.48,384.43 336.54,383.88 337.6,383.4 338.66,382.97 339.72,382.56 340.78,382.17 341.84,381.8 342.9,381.43 343.96,381.07 345.02,380.71 346.08,380.35 347.14,379.99 348.2,379.63 349.26,379.28 350.32,378.92 351.38,378.57 352.44,378.21 353.5,377.86 354.56,377.5 355.62,377.15 356.68,376.79 357.74,376.44 358.8,376.08 359.86,375.73 360.92,375.38 361.98,375.02 363.04,374.67 364.1,374.31 365.16,373.96 366.22,373.6 367.28,373.25 368.34,372.89 369.4,372.54 370.46,372.18 371.52,371.83 372.58,371.47 373.64,371.12 374.7,370.76 375.76,370.41 376.82,370.05 377.88,369.7 378.94,369.34 380,368.99 381.06,368.63 382.12,368.28 383.18,367.93 384.24,367.57 385.3,367.22 386.36,366.86 387.42,366.51 388.48,366.15 389.54,365.8 390.6,365.44 391.66,365.09 392.19,364.91 393.04,401.43 396.96,408.78 401.2,414.56 404.38,415.61 426.64,415.35 427.7,415.09 428.55,470.78 430.88,470.94 435.12,471.21 439.36,471.42 443.6,471.57 447.84,471.7 452.08,471.79 456.32,471.86 460.56,471.91 464.8,471.96 469.04,471.99 473.28,472.01 477.52,472.03 481.76,472.04 486,472.06 490.24,472.06 491.3,472.09" fill="none" stroke="#ff0000" stroke-width="1.8" stroke-linejoin="round" stroke-linecap="round" />
<polyline points="301.03,408.78 326.47,409.57 327,409.28 328.06,408.8 329.12,408.42 330.18,408.1 331.24,407.84 332.3,407.62 333.36,407.42 334.42,407.23 335.48,407.06 336.54,406.9 337.6,406.75 338.66,406.6 339.72,406.45 340.78,406.3 341.84,406.15 342.9,406.01 343.96,405.86 345.02,405.72 346.08,405.58 347.14,405.43 348.2,405.29 349.26,405.14 350.32,405 351.38,404.86 352.44,404.71 353.5,404.57 354.56,404.42 355.62,404.28 356.68,404.14 357.74,403.99 358.8,403.85 359.86,403.71 360.92,403.56 361.98,403.42 363.04,403.28 364.1,403.13 365.16,402.99 366.22,402.84 367.28,402.7 368.34,402.56 369.4,402.41 370.46,402.27 371.52,402.13 372.58,401.98 373.64,401.84 374.7,401.69 375.76,401.55 376.82,401.41 377.88,401.26 378.94,401.12 380,400.98 381.06,400.83 382.12,400.69 383.18,400.54 384.24,400.4 385.3,400.26 386.36,400.11 387.42,399.97 388.48,399.83 389.54,399.68 390.6,399.54 391.66,399.4 392.19,399.32 393.25,422.44 394.84,421.18 396.96,419.62 399.08,418.82 401.2,418.41 403.32,418.2 405.44,418.09 407.56,418.03 409.68,418.01 411.8,417.99 413.92,417.98 416.04,417.98 418.16,417.98 420.28,417.98 422.4,417.98 424.52,417.98 426.64,417.98 427.7,417.98 428.55,467.89 430.88,468.05 435.12,468.32 439.36,468.53 443.6,468.69 447.84,468.81 452.08,468.9 456.32,468.97 460.56,469.02 464.8,469.07 469.04,469.1 473.28,469.12 477.52,469.14 481.76,469.15 486,469.17 490.24,469.17 491.3,469.2" fill="none" stroke="#800080" stroke-width="1.8" stroke-linejoin="round" stroke-linecap="round" />
<polyline points="299.1,469.6 299.4,408.6 301.56,408.78" fill="none" stroke="#800080" stroke-width="1.6"/>
<polyline points="326.47,409.57 327.53,409.57 328.59,388.29 329.12,377.78 330.18,372.53 332.3,368.06 335.48,364.65 341.84,361.23 358.8,355.98 391.66,348.36 392.19,351.51 393.04,380.41 394.31,414.56 398.02,419.81 411.8,424.54 427.7,427.96 428.76,480.24 430.88,480.83 435.12,481.79 439.36,482.54 443.6,483.1 447.84,483.54 452.08,483.87 456.32,484.13 460.56,484.32 464.8,484.47 469.04,484.59 473.28,484.68 477.52,484.74 481.76,484.79 486,484.83 490.24,484.86" fill="none" stroke="#111" stroke-width="1.8" stroke-linejoin="round" stroke-linecap="round" stroke-dasharray="5,3.6"/>
<line x1="435.4" y1="332.4" x2="457.3" y2="332.4" stroke="#111" stroke-width="1.9" stroke-dasharray="5.5,7.5"/>
<text x="459.8" y="336" font-family="'Liberation Sans', Arial, sans-serif" font-size="10.1" fill="#222" stroke="#222" stroke-width="0.15" textLength="35.1" lengthAdjust="spacingAndGlyphs">baseline</text>
<line x1="435.4" y1="344.9" x2="457.3" y2="344.9" stroke="#ff0000" stroke-width="1.9" />
<text x="459.8" y="348.5" font-family="'Liberation Sans', Arial, sans-serif" font-size="10.1" fill="#222" stroke="#222" stroke-width="0.15" textLength="48.2" lengthAdjust="spacingAndGlyphs">1.0x10<tspan font-size="6.4" dy="-3.6">-6</tspan><tspan dy="3.6"> nM</tspan></text>
<line x1="435.4" y1="358" x2="457.3" y2="358" stroke="#00ff00" stroke-width="2" stroke-dasharray="1.4,5.6"/>
<text x="459.8" y="361.6" font-family="'Liberation Sans', Arial, sans-serif" font-size="10.1" fill="#222" stroke="#222" stroke-width="0.15" textLength="48.2" lengthAdjust="spacingAndGlyphs">1.0x10<tspan font-size="6.4" dy="-3.6">-5</tspan><tspan dy="3.6"> nM</tspan></text>
<line x1="435.4" y1="371" x2="457.3" y2="371" stroke="#0000ff" stroke-width="2" stroke-dasharray="7,3,1.6,3"/>
<text x="459.8" y="374.6" font-family="'Liberation Sans', Arial, sans-serif" font-size="10.1" fill="#222" stroke="#222" stroke-width="0.15" textLength="48.2" lengthAdjust="spacingAndGlyphs">1.0x10<tspan font-size="6.4" dy="-3.6">-4</tspan><tspan dy="3.6"> nM</tspan></text>
<line x1="435.4" y1="384.3" x2="457.3" y2="384.3" stroke="#00ffff" stroke-width="2" stroke-dasharray="5,2.4,1.5,2.4,1.5,2.4"/>
<text x="459.8" y="387.9" font-family="'Liberation Sans', Arial, sans-serif" font-size="10.1" fill="#222" stroke="#222" stroke-width="0.15" textLength="48.2" lengthAdjust="spacingAndGlyphs">1.0x10<tspan font-size="6.4" dy="-3.6">-3</tspan><tspan dy="3.6"> nM</tspan></text>
<line x1="435.4" y1="396.5" x2="457.3" y2="396.5" stroke="#ff00ff" stroke-width="1.9" stroke-dasharray="1.3,2.1"/>
<text x="459.8" y="400.1" font-family="'Liberation Sans', Arial, sans-serif" font-size="10.1" fill="#222" stroke="#222" stroke-width="0.15" textLength="40" lengthAdjust="spacingAndGlyphs">0.010 nM</text>
<line x1="435.4" y1="408" x2="457.3" y2="408" stroke="#ffff00" stroke-width="1.9" stroke-dasharray="1,1.1"/>
<text x="459.8" y="411.6" font-family="'Liberation Sans', Arial, sans-serif" font-size="10.1" fill="#222" stroke="#222" stroke-width="0.15" textLength="34.8" lengthAdjust="spacingAndGlyphs">0.10 nM</text>
<line x1="435.4" y1="420.2" x2="457.3" y2="420.2" stroke="#808000" stroke-width="1.9" stroke-dasharray="6,2.4,1.6,2.4"/>
<text x="459.8" y="423.8" font-family="'Liberation Sans', Arial, sans-serif" font-size="10.1" fill="#222" stroke="#222" stroke-width="0.15" textLength="26" lengthAdjust="spacingAndGlyphs">10 nM</text>
<line x1="435.4" y1="431.6" x2="457.3" y2="431.6" stroke="#000080" stroke-width="1.9" stroke-dasharray="6.5,6.5"/>
<text x="459.8" y="435.2" font-family="'Liberation Sans', Arial, sans-serif" font-size="10.1" fill="#222" stroke="#222" stroke-width="0.15" textLength="31.2" lengthAdjust="spacingAndGlyphs">100 nM</text>
<line x1="435.4" y1="443" x2="457.3" y2="443" stroke="#800080" stroke-width="1.9" />
<text x="459.8" y="446.6" font-family="'Liberation Sans', Arial, sans-serif" font-size="10.1" fill="#222" stroke="#222" stroke-width="0.15" textLength="31.2" lengthAdjust="spacingAndGlyphs">150 nM</text>
<rect x="37.8" y="530.4" width="217.7" height="172.9" fill="none" stroke="#5a5a5a" stroke-width="1.1"/>
<g stroke="#5a5a5a" stroke-width="1"><line x1="59.57" y1="703.3" x2="59.57" y2="706.3"/><line x1="103.11" y1="703.3" x2="103.11" y2="706.3"/><line x1="146.65" y1="703.3" x2="146.65" y2="706.3"/><line x1="190.19" y1="703.3" x2="190.19" y2="706.3"/><line x1="233.73" y1="703.3" x2="233.73" y2="706.3"/><line x1="37.8" y1="703.3" x2="37.8" y2="705.3"/><line x1="81.34" y1="703.3" x2="81.34" y2="705.3"/><line x1="124.88" y1="703.3" x2="124.88" y2="705.3"/><line x1="168.42" y1="703.3" x2="168.42" y2="705.3"/><line x1="211.96" y1="703.3" x2="211.96" y2="705.3"/><line x1="255.5" y1="703.3" x2="255.5" y2="705.3"/><line x1="34.6" y1="703.3" x2="37.8" y2="703.3"/><line x1="34.6" y1="660.07" x2="37.8" y2="660.07"/><line x1="34.6" y1="616.85" x2="37.8" y2="616.85"/><line x1="34.6" y1="573.62" x2="37.8" y2="573.62"/><line x1="34.6" y1="530.4" x2="37.8" y2="530.4"/><line x1="35.8" y1="681.69" x2="37.8" y2="681.69"/><line x1="35.8" y1="638.46" x2="37.8" y2="638.46"/><line x1="35.8" y1="595.24" x2="37.8" y2="595.24"/><line x1="35.8" y1="552.01" x2="37.8" y2="552.01"/></g>
<text x="59.57" y="714.6" font-family="'Liberation Sans', Arial, sans-serif" font-size="8.8" text-anchor="middle" fill="#222" stroke="#222" stroke-width="0.12" textLength="6.05" lengthAdjust="spacingAndGlyphs">-6</text>
<text x="103.11" y="714.6" font-family="'Liberation Sans', Arial, sans-serif" font-size="8.8" text-anchor="middle" fill="#222" stroke="#222" stroke-width="0.12" textLength="6.05" lengthAdjust="spacingAndGlyphs">-4</text>
<text x="146.65" y="714.6" font-family="'Liberation Sans', Arial, sans-serif" font-size="8.8" text-anchor="middle" fill="#222" stroke="#222" stroke-width="0.12" textLength="6.05" lengthAdjust="spacingAndGlyphs">-2</text>
<text x="190.19" y="714.6" font-family="'Liberation Sans', Arial, sans-serif" font-size="8.8" text-anchor="middle" fill="#222" stroke="#222" stroke-width="0.12" textLength="3.78" lengthAdjust="spacingAndGlyphs">0</text>
<text x="233.73" y="714.6" font-family="'Liberation Sans', Arial, sans-serif" font-size="8.8" text-anchor="middle" fill="#222" stroke="#222" stroke-width="0.12" textLength="3.78" lengthAdjust="spacingAndGlyphs">2</text>
<text x="32.6" y="706.2" font-family="'Liberation Sans', Arial, sans-serif" font-size="9.2" text-anchor="end" fill="#222" stroke="#222" stroke-width="0.12" textLength="8.45" lengthAdjust="spacingAndGlyphs">30</text>
<text x="32.6" y="662.97" font-family="'Liberation Sans', Arial, sans-serif" font-size="9.2" text-anchor="end" fill="#222" stroke="#222" stroke-width="0.12" textLength="8.45" lengthAdjust="spacingAndGlyphs">40</text>
<text x="32.6" y="619.75" font-family="'Liberation Sans', Arial, sans-serif" font-size="9.2" text-anchor="end" fill="#222" stroke="#222" stroke-width="0.12" textLength="8.45" lengthAdjust="spacingAndGlyphs">50</text>
<text x="32.6" y="576.52" font-family="'Liberation Sans', Arial, sans-serif" font-size="9.2" text-anchor="end" fill="#222" stroke="#222" stroke-width="0.12" textLength="8.45" lengthAdjust="spacingAndGlyphs">60</text>
<text x="32.6" y="533.3" font-family="'Liberation Sans', Arial, sans-serif" font-size="9.2" text-anchor="end" fill="#222" stroke="#222" stroke-width="0.12" textLength="8.45" lengthAdjust="spacingAndGlyphs">70</text>
<text x="124.5" y="728.2" font-family="'Liberation Sans', Arial, sans-serif" font-size="9.6" fill="#222" textLength="45" lengthAdjust="spacingAndGlyphs">log(C / nM)</text>
<text transform="translate(19.2,657.2) rotate(-90)" font-family="'Liberation Sans', Arial, sans-serif" font-size="10.2" fill="#222" stroke="#222" stroke-width="0.15" textLength="80.3" lengthAdjust="spacingAndGlyphs">Angle variation / m<tspan font-size="6.5" dy="-4">o</tspan></text>
<text x="45" y="556.3" font-family="'Liberation Sans', Arial, sans-serif" font-weight="bold" font-size="17" fill="#111" stroke="#111" stroke-width="0.4" textLength="8.6" lengthAdjust="spacingAndGlyphs">b</text>
<polyline points="59.57,650.13 60.47,650.13 61.36,650.13 62.26,650.13 63.16,650.13 64.06,650.13 64.95,650.13 65.85,650.13 66.75,650.13 67.64,650.13 68.54,650.13 69.44,650.13 70.33,650.13 71.23,650.13 72.13,650.13 73.03,650.13 73.92,650.13 74.82,650.13 75.72,650.13 76.61,650.13 77.51,650.13 78.41,650.13 79.31,650.13 80.2,650.13 81.1,650.13 82,650.13 82.89,650.13 83.79,650.13 84.69,650.13 85.58,650.13 86.48,650.13 87.38,650.13 88.28,650.13 89.17,650.13 90.07,650.13 90.97,650.13 91.86,650.13 92.76,650.13 93.66,650.13 94.56,650.13 95.45,650.13 96.35,650.13 97.25,650.13 98.14,650.13 99.04,650.13 99.94,650.13 100.83,650.13 101.73,650.13 102.63,650.13 103.53,650.13 104.42,650.13 105.32,650.13 106.22,650.13 107.11,650.13 108.01,650.13 108.91,650.13 109.81,650.13 110.7,650.13 111.6,650.13 112.5,650.13 113.39,650.13 114.29,650.13 115.19,650.13 116.08,650.13 116.98,650.13 117.88,650.13 118.78,650.13 119.67,650.13 120.57,650.13 121.47,650.13 122.36,650.13 123.26,650.13 124.16,650.13 125.06,650.13 125.95,650.13 126.85,650.13 127.75,650.13 128.64,650.13 129.54,650.13 130.44,650.13 131.33,650.13 132.23,650.13 133.13,650.13 134.03,650.13 134.92,650.13 135.82,650.13 136.72,650.13 137.61,650.13 138.51,650.13 139.41,650.13 140.3,650.13 141.2,650.13 142.1,650.13 143,650.13 143.89,650.13 144.79,650.13 145.69,650.13 146.58,650.13 147.48,650.13 148.38,650.13 149.28,650.13 150.17,650.13 151.07,650.13 151.97,650.13 152.86,650.13 153.76,650.12 154.66,650.12 155.55,650.12 156.45,650.12 157.35,650.12 158.25,650.12 159.14,650.12 160.04,650.12 160.94,650.11 161.83,650.11 162.73,650.11 163.63,650.11 164.53,650.1 165.42,650.1 166.32,650.1 167.22,650.09 168.11,650.09 169.01,650.09 169.91,650.08 170.8,650.08 171.7,650.07 172.6,650.06 173.5,650.06 174.39,650.05 175.29,650.04 176.19,650.03 177.08,650.02 177.98,650.01 178.88,649.99 179.78,649.98 180.67,649.96 181.57,649.95 182.47,649.93 183.36,649.9 184.26,649.88 185.16,649.86 186.05,649.83 186.95,649.79 187.85,649.76 188.75,649.72 189.64,649.68 190.54,649.63 191.44,649.58 192.33,649.52 193.23,649.46 194.13,649.39 195.03,649.32 195.92,649.23 196.82,649.14 197.72,649.04 198.61,648.92 199.51,648.8 200.41,648.66 201.3,648.51 202.2,648.34 203.1,648.16 204,647.95 204.89,647.73 205.79,647.48 206.69,647.2 207.58,646.9 208.48,646.57 209.38,646.2 210.28,645.8 211.17,645.35 212.07,644.86 212.97,644.31 213.86,643.71 214.76,643.05 215.66,642.32 216.55,641.52 217.45,640.63 218.35,639.65 219.25,638.57 220.14,637.38 221.04,636.06 221.94,634.61 222.83,633.01 223.73,631.24 224.63,629.3 225.53,627.15 226.42,624.78 227.32,622.17 228.22,619.28 229.11,616.1 230.01,612.59 230.91,608.73 231.8,604.46 232.7,599.75 233.6,594.55 234.5,588.82 235.39,582.5 236.29,575.53 237.19,567.84 238.08,559.36" fill="none" stroke="#111" stroke-width="1.7" stroke-linejoin="round" stroke-dasharray="1.4,3" stroke-linecap="butt"/>
<line x1="59.57" y1="646.68" x2="59.57" y2="672.18" stroke="#111" stroke-width="1.1"/>
<line x1="57.57" y1="646.68" x2="61.57" y2="646.68" stroke="#111" stroke-width="1.3"/>
<line x1="57.57" y1="672.18" x2="61.57" y2="672.18" stroke="#111" stroke-width="1.3"/>
<rect x="56.47" y="655.68" width="6.2" height="6.2" fill="#111"/>
<line x1="81.34" y1="622.47" x2="81.34" y2="663.53" stroke="#111" stroke-width="1.1"/>
<line x1="79.34" y1="622.47" x2="83.34" y2="622.47" stroke="#111" stroke-width="1.3"/>
<line x1="79.34" y1="663.53" x2="83.34" y2="663.53" stroke="#111" stroke-width="1.3"/>
<rect x="78.24" y="639.68" width="6.2" height="6.2" fill="#111"/>
<line x1="103.11" y1="639.33" x2="103.11" y2="660.51" stroke="#111" stroke-width="1.1"/>
<line x1="101.11" y1="639.33" x2="105.11" y2="639.33" stroke="#111" stroke-width="1.3"/>
<line x1="101.11" y1="660.51" x2="105.11" y2="660.51" stroke="#111" stroke-width="1.3"/>
<rect x="100.01" y="646.6" width="6.2" height="6.2" fill="#111"/>
<line x1="124.88" y1="650.13" x2="124.88" y2="656.62" stroke="#111" stroke-width="1.1"/>
<line x1="122.88" y1="650.13" x2="126.88" y2="650.13" stroke="#111" stroke-width="1.3"/>
<line x1="122.88" y1="656.62" x2="126.88" y2="656.62" stroke="#111" stroke-width="1.3"/>
<rect x="121.78" y="650.49" width="6.2" height="6.2" fill="#111"/>
<line x1="146.65" y1="641.92" x2="146.65" y2="649.27" stroke="#111" stroke-width="1.1"/>
<line x1="144.65" y1="641.92" x2="148.65" y2="641.92" stroke="#111" stroke-width="1.3"/>
<line x1="144.65" y1="649.27" x2="148.65" y2="649.27" stroke="#111" stroke-width="1.3"/>
<rect x="143.55" y="642.28" width="6.2" height="6.2" fill="#111"/>
<line x1="168.42" y1="624.2" x2="168.42" y2="668.72" stroke="#111" stroke-width="1.1"/>
<line x1="166.42" y1="624.2" x2="170.42" y2="624.2" stroke="#111" stroke-width="1.3"/>
<line x1="166.42" y1="668.72" x2="170.42" y2="668.72" stroke="#111" stroke-width="1.3"/>
<rect x="165.32" y="643.58" width="6.2" height="6.2" fill="#111"/>
<line x1="190.19" y1="625.93" x2="190.19" y2="664.4" stroke="#111" stroke-width="1.1"/>
<line x1="188.19" y1="625.93" x2="192.19" y2="625.93" stroke="#111" stroke-width="1.3"/>
<line x1="188.19" y1="664.4" x2="192.19" y2="664.4" stroke="#111" stroke-width="1.3"/>
<rect x="187.09" y="641.85" width="6.2" height="6.2" fill="#111"/>
<line x1="211.96" y1="627.22" x2="211.96" y2="655.75" stroke="#111" stroke-width="1.1"/>
<line x1="209.96" y1="627.22" x2="213.96" y2="627.22" stroke="#111" stroke-width="1.3"/>
<line x1="209.96" y1="655.75" x2="213.96" y2="655.75" stroke="#111" stroke-width="1.3"/>
<rect x="208.86" y="638.39" width="6.2" height="6.2" fill="#111"/>
<line x1="233.73" y1="584.43" x2="233.73" y2="599.99" stroke="#111" stroke-width="1.1"/>
<line x1="231.73" y1="584.43" x2="235.73" y2="584.43" stroke="#111" stroke-width="1.3"/>
<line x1="231.73" y1="599.99" x2="235.73" y2="599.99" stroke="#111" stroke-width="1.3"/>
<rect x="230.63" y="589.33" width="6.2" height="6.2" fill="#111"/>
<line x1="238.3" y1="538.61" x2="238.3" y2="581.84" stroke="#111" stroke-width="1.1"/>
<line x1="236.3" y1="538.61" x2="240.3" y2="538.61" stroke="#111" stroke-width="1.3"/>
<line x1="236.3" y1="581.84" x2="240.3" y2="581.84" stroke="#111" stroke-width="1.3"/>
<rect x="235.2" y="556.91" width="6.2" height="6.2" fill="#111"/>
<rect x="294.4" y="530.8" width="218.2" height="172.3" fill="none" stroke="#5a5a5a" stroke-width="1.1"/>
<g stroke="#5a5a5a" stroke-width="1"><line x1="316.22" y1="703.1" x2="316.22" y2="706.1"/><line x1="359.86" y1="703.1" x2="359.86" y2="706.1"/><line x1="403.5" y1="703.1" x2="403.5" y2="706.1"/><line x1="447.14" y1="703.1" x2="447.14" y2="706.1"/><line x1="490.78" y1="703.1" x2="490.78" y2="706.1"/><line x1="294.4" y1="703.1" x2="294.4" y2="705.1"/><line x1="338.04" y1="703.1" x2="338.04" y2="705.1"/><line x1="381.68" y1="703.1" x2="381.68" y2="705.1"/><line x1="425.32" y1="703.1" x2="425.32" y2="705.1"/><line x1="468.96" y1="703.1" x2="468.96" y2="705.1"/><line x1="512.6" y1="703.1" x2="512.6" y2="705.1"/><line x1="291.2" y1="693.53" x2="294.4" y2="693.53"/><line x1="291.2" y1="674.38" x2="294.4" y2="674.38"/><line x1="291.2" y1="655.24" x2="294.4" y2="655.24"/><line x1="291.2" y1="636.1" x2="294.4" y2="636.1"/><line x1="291.2" y1="616.95" x2="294.4" y2="616.95"/><line x1="291.2" y1="597.81" x2="294.4" y2="597.81"/><line x1="291.2" y1="578.66" x2="294.4" y2="578.66"/><line x1="291.2" y1="559.52" x2="294.4" y2="559.52"/><line x1="291.2" y1="540.38" x2="294.4" y2="540.38"/><line x1="292.4" y1="703.1" x2="294.4" y2="703.1"/><line x1="292.4" y1="683.96" x2="294.4" y2="683.96"/><line x1="292.4" y1="664.81" x2="294.4" y2="664.81"/><line x1="292.4" y1="645.67" x2="294.4" y2="645.67"/><line x1="292.4" y1="626.52" x2="294.4" y2="626.52"/><line x1="292.4" y1="607.38" x2="294.4" y2="607.38"/><line x1="292.4" y1="588.24" x2="294.4" y2="588.24"/><line x1="292.4" y1="569.09" x2="294.4" y2="569.09"/><line x1="292.4" y1="549.95" x2="294.4" y2="549.95"/><line x1="292.4" y1="530.8" x2="294.4" y2="530.8"/></g>
<text x="316.22" y="714.6" font-family="'Liberation Sans', Arial, sans-serif" font-size="8.8" text-anchor="middle" fill="#222" stroke="#222" stroke-width="0.12" textLength="6.05" lengthAdjust="spacingAndGlyphs">-6</text>
<text x="359.86" y="714.6" font-family="'Liberation Sans', Arial, sans-serif" font-size="8.8" text-anchor="middle" fill="#222" stroke="#222" stroke-width="0.12" textLength="6.05" lengthAdjust="spacingAndGlyphs">-4</text>
<text x="403.5" y="714.6" font-family="'Liberation Sans', Arial, sans-serif" font-size="8.8" text-anchor="middle" fill="#222" stroke="#222" stroke-width="0.12" textLength="6.05" lengthAdjust="spacingAndGlyphs">-2</text>
<text x="447.14" y="714.6" font-family="'Liberation Sans', Arial, sans-serif" font-size="8.8" text-anchor="middle" fill="#222" stroke="#222" stroke-width="0.12" textLength="3.78" lengthAdjust="spacingAndGlyphs">0</text>
<text x="490.78" y="714.6" font-family="'Liberation Sans', Arial, sans-serif" font-size="8.8" text-anchor="middle" fill="#222" stroke="#222" stroke-width="0.12" textLength="3.78" lengthAdjust="spacingAndGlyphs">2</text>
<text x="289.2" y="696.43" font-family="'Liberation Sans', Arial, sans-serif" font-size="9.2" text-anchor="end" fill="#222" stroke="#222" stroke-width="0.12" textLength="8.45" lengthAdjust="spacingAndGlyphs">80</text>
<text x="289.2" y="677.28" font-family="'Liberation Sans', Arial, sans-serif" font-size="9.2" text-anchor="end" fill="#222" stroke="#222" stroke-width="0.12" textLength="12.68" lengthAdjust="spacingAndGlyphs">100</text>
<text x="289.2" y="658.14" font-family="'Liberation Sans', Arial, sans-serif" font-size="9.2" text-anchor="end" fill="#222" stroke="#222" stroke-width="0.12" textLength="12.68" lengthAdjust="spacingAndGlyphs">120</text>
<text x="289.2" y="639" font-family="'Liberation Sans', Arial, sans-serif" font-size="9.2" text-anchor="end" fill="#222" stroke="#222" stroke-width="0.12" textLength="12.68" lengthAdjust="spacingAndGlyphs">140</text>
<text x="289.2" y="619.85" font-family="'Liberation Sans', Arial, sans-serif" font-size="9.2" text-anchor="end" fill="#222" stroke="#222" stroke-width="0.12" textLength="12.68" lengthAdjust="spacingAndGlyphs">160</text>
<text x="289.2" y="600.71" font-family="'Liberation Sans', Arial, sans-serif" font-size="9.2" text-anchor="end" fill="#222" stroke="#222" stroke-width="0.12" textLength="12.68" lengthAdjust="spacingAndGlyphs">180</text>
<text x="289.2" y="581.56" font-family="'Liberation Sans', Arial, sans-serif" font-size="9.2" text-anchor="end" fill="#222" stroke="#222" stroke-width="0.12" textLength="12.68" lengthAdjust="spacingAndGlyphs">200</text>
<text x="289.2" y="562.42" font-family="'Liberation Sans', Arial, sans-serif" font-size="9.2" text-anchor="end" fill="#222" stroke="#222" stroke-width="0.12" textLength="12.68" lengthAdjust="spacingAndGlyphs">220</text>
<text x="289.2" y="543.28" font-family="'Liberation Sans', Arial, sans-serif" font-size="9.2" text-anchor="end" fill="#222" stroke="#222" stroke-width="0.12" textLength="12.68" lengthAdjust="spacingAndGlyphs">240</text>
<text x="381.5" y="728.2" font-family="'Liberation Sans', Arial, sans-serif" font-size="9.6" fill="#222" textLength="44.3" lengthAdjust="spacingAndGlyphs">log(C / nM)</text>
<text transform="translate(271.6,657.2) rotate(-90)" font-family="'Liberation Sans', Arial, sans-serif" font-size="10.2" fill="#222" stroke="#222" stroke-width="0.15" textLength="80.3" lengthAdjust="spacingAndGlyphs">Angle variation / m<tspan font-size="6.5" dy="-4">o</tspan></text>
<text x="303" y="555.8" font-family="'Liberation Sans', Arial, sans-serif" font-weight="bold" font-size="14.5" fill="#111" stroke="#111" stroke-width="0.4" textLength="7.8" lengthAdjust="spacingAndGlyphs">c</text>
<line x1="316.22" y1="580" x2="425.32" y2="678.88" stroke="#111" stroke-width="2.6"/>
<line x1="316.22" y1="556.65" x2="316.22" y2="592.06" stroke="#111" stroke-width="1"/>
<line x1="314.02" y1="556.65" x2="318.42" y2="556.65" stroke="#111" stroke-width="1"/>
<line x1="314.02" y1="592.06" x2="318.42" y2="592.06" stroke="#111" stroke-width="1"/>
<polygon points="316.22,569.1 312.12,576.2 320.32,576.2" fill="#111"/>
<line x1="338.04" y1="597.81" x2="338.04" y2="603.07" stroke="#111" stroke-width="1"/>
<line x1="335.84" y1="597.81" x2="340.24" y2="597.81" stroke="#111" stroke-width="1"/>
<line x1="335.84" y1="603.07" x2="340.24" y2="603.07" stroke="#111" stroke-width="1"/>
<polygon points="338.04,595.61 333.94,602.71 342.14,602.71" fill="#111"/>
<line x1="359.86" y1="624.61" x2="359.86" y2="633.22" stroke="#111" stroke-width="1"/>
<line x1="357.66" y1="624.61" x2="362.06" y2="624.61" stroke="#111" stroke-width="1"/>
<line x1="357.66" y1="633.22" x2="362.06" y2="633.22" stroke="#111" stroke-width="1"/>
<polygon points="359.86,623.56 355.76,630.66 363.96,630.66" fill="#111"/>
<line x1="381.68" y1="627.96" x2="381.68" y2="647.1" stroke="#111" stroke-width="1"/>
<line x1="379.48" y1="627.96" x2="383.88" y2="627.96" stroke="#111" stroke-width="1"/>
<line x1="379.48" y1="647.1" x2="383.88" y2="647.1" stroke="#111" stroke-width="1"/>
<polygon points="381.68,633.52 377.58,640.62 385.78,640.62" fill="#111"/>
<line x1="403.5" y1="650.93" x2="403.5" y2="663.38" stroke="#111" stroke-width="1"/>
<line x1="401.3" y1="650.93" x2="405.7" y2="650.93" stroke="#111" stroke-width="1"/>
<line x1="401.3" y1="663.38" x2="405.7" y2="663.38" stroke="#111" stroke-width="1"/>
<polygon points="403.5,653.05 399.4,660.15 407.6,660.15" fill="#111"/>
<line x1="425.32" y1="677.26" x2="425.32" y2="680.61" stroke="#111" stroke-width="1"/>
<line x1="423.12" y1="677.26" x2="427.52" y2="677.26" stroke="#111" stroke-width="1"/>
<line x1="423.12" y1="680.61" x2="427.52" y2="680.61" stroke="#111" stroke-width="1"/>
<polygon points="425.32,674.39 421.22,681.49 429.42,681.49" fill="#111"/>
<line x1="468.96" y1="680.61" x2="468.96" y2="688.26" stroke="#111" stroke-width="1"/>
<line x1="466.76" y1="680.61" x2="471.16" y2="680.61" stroke="#111" stroke-width="1"/>
<line x1="466.76" y1="688.26" x2="471.16" y2="688.26" stroke="#111" stroke-width="1"/>
<polygon points="468.96,679.46 464.86,686.56 473.06,686.56" fill="#111"/>
<line x1="494.71" y1="668.16" x2="494.71" y2="688.26" stroke="#111" stroke-width="1"/>
<line x1="492.51" y1="668.16" x2="496.91" y2="668.16" stroke="#111" stroke-width="1"/>
<line x1="492.51" y1="688.26" x2="496.91" y2="688.26" stroke="#111" stroke-width="1"/>
<polygon points="494.71,673.34 490.61,680.44 498.81,680.44" fill="#111"/>
<text x="369.3" y="586.2" font-family="'Liberation Sans', Arial, sans-serif" font-size="9.1" fill="#222" textLength="109.5" lengthAdjust="spacingAndGlyphs">y = -(20 &#177; 1)logC + (75 &#177; 5)</text>
<text x="369.3" y="599" font-family="'Liberation Sans', Arial, sans-serif" font-size="9.1" fill="#222">R<tspan font-size="5.5" dy="-3.2">2</tspan><tspan dy="3.2"> = 0.984</tspan></text>
</svg>
</body></html>
